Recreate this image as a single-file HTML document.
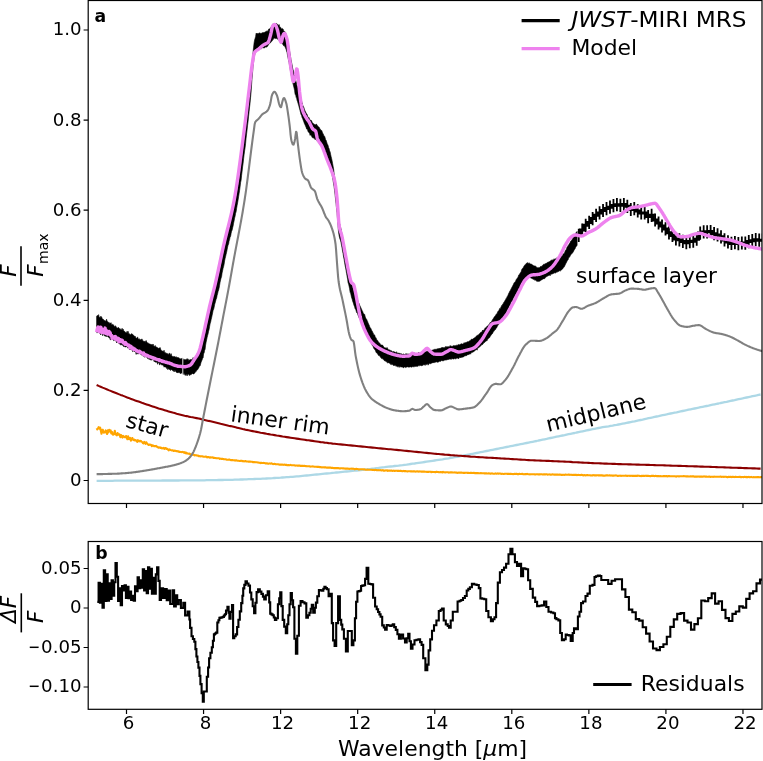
<!DOCTYPE html>
<html lang="en"><head><meta charset="utf-8"><title>Spectrum fit</title><style>html,body{margin:0;padding:0;background:#fff}svg{display:block}</style></head><body>
<svg width="763" height="761" viewBox="0 0 763 761" font-family="'DejaVu Sans','Verdana','Liberation Sans',sans-serif" style="display:block">
<rect width="763" height="761" fill="#fff"/>
<defs><clipPath id="c1"><rect x="88.2" y="0.5" width="673.8" height="503.0"/></clipPath><clipPath id="c2"><rect x="88.2" y="541.5" width="673.8" height="167.79999999999995"/></clipPath></defs>
<g clip-path="url(#c1)" fill="none" stroke-linejoin="round" stroke-linecap="butt">
<path d="M96.6,480.8 L98.6,480.8 L100.6,480.8 L102.6,480.8 L104.6,480.8 L106.6,480.8 L108.6,480.8 L110.6,480.8 L112.6,480.8 L114.6,480.7 L116.6,480.7 L118.6,480.7 L120.6,480.7 L122.6,480.7 L124.6,480.7 L126.6,480.7 L128.6,480.7 L130.6,480.7 L132.6,480.7 L134.6,480.7 L136.6,480.7 L138.6,480.7 L140.6,480.6 L142.6,480.6 L144.6,480.6 L146.6,480.6 L148.6,480.6 L150.6,480.6 L152.6,480.6 L154.6,480.6 L156.6,480.6 L158.6,480.6 L160.6,480.6 L162.6,480.5 L164.6,480.5 L166.6,480.5 L168.6,480.5 L170.6,480.5 L172.6,480.5 L174.6,480.5 L176.6,480.5 L178.6,480.5 L180.6,480.4 L182.6,480.4 L184.6,480.4 L186.6,480.4 L188.6,480.4 L190.6,480.4 L192.6,480.4 L194.6,480.3 L196.6,480.3 L198.6,480.3 L200.6,480.3 L202.6,480.3 L204.6,480.3 L206.6,480.2 L208.6,480.2 L210.6,480.2 L212.6,480.1 L214.6,480.1 L216.6,480.1 L218.6,480.0 L220.6,480.0 L222.6,480.0 L224.6,479.9 L226.6,479.9 L228.6,479.8 L230.6,479.8 L232.6,479.8 L234.6,479.7 L236.6,479.6 L238.6,479.6 L240.6,479.5 L242.6,479.5 L244.6,479.4 L246.6,479.3 L248.6,479.2 L250.6,479.2 L252.6,479.1 L254.6,479.0 L256.6,478.9 L258.6,478.8 L260.6,478.8 L262.6,478.7 L264.6,478.6 L266.6,478.5 L268.6,478.4 L270.6,478.3 L272.6,478.2 L274.6,478.0 L276.6,477.9 L278.6,477.8 L280.6,477.7 L282.6,477.5 L284.6,477.4 L286.6,477.2 L288.6,477.1 L290.6,476.9 L292.6,476.8 L294.6,476.6 L296.6,476.4 L298.6,476.3 L300.6,476.1 L302.6,475.9 L304.6,475.7 L306.6,475.5 L308.6,475.3 L310.6,475.1 L312.6,474.9 L314.6,474.7 L316.6,474.5 L318.6,474.3 L320.6,474.1 L322.6,473.9 L324.6,473.7 L326.6,473.5 L328.6,473.3 L330.6,473.1 L332.6,472.8 L334.6,472.7 L336.6,472.5 L338.6,472.3 L340.6,472.1 L342.6,471.9 L344.6,471.7 L346.6,471.5 L348.6,471.3 L350.6,471.1 L352.6,470.9 L354.6,470.7 L356.6,470.5 L358.6,470.3 L360.6,470.0 L362.6,469.8 L364.6,469.6 L366.6,469.3 L368.6,469.1 L370.6,468.9 L372.6,468.6 L374.6,468.4 L376.6,468.1 L378.6,467.9 L380.6,467.6 L382.6,467.4 L384.6,467.2 L386.6,466.9 L388.6,466.7 L390.6,466.5 L392.6,466.3 L394.6,466.0 L396.6,465.8 L398.6,465.6 L400.6,465.3 L402.6,465.1 L404.6,464.8 L406.6,464.6 L408.6,464.3 L410.6,464.0 L412.6,463.7 L414.6,463.5 L416.6,463.2 L418.6,462.9 L420.6,462.6 L422.6,462.3 L424.6,462.0 L426.6,461.7 L428.6,461.4 L430.6,461.1 L432.6,460.8 L434.6,460.5 L436.6,460.2 L438.6,459.9 L440.6,459.6 L442.6,459.3 L444.6,458.9 L446.6,458.6 L448.6,458.3 L450.6,457.9 L452.6,457.6 L454.6,457.2 L456.6,456.8 L458.6,456.5 L460.6,456.1 L462.6,455.7 L464.6,455.3 L466.6,455.0 L468.6,454.6 L470.6,454.2 L472.6,453.8 L474.6,453.4 L476.6,453.0 L478.6,452.6 L480.6,452.2 L482.6,451.8 L484.6,451.4 L486.6,451.0 L488.6,450.6 L490.6,450.2 L492.6,449.8 L494.6,449.4 L496.6,449.0 L498.6,448.6 L500.6,448.2 L502.6,447.8 L504.6,447.4 L506.6,447.0 L508.6,446.6 L510.6,446.2 L512.6,445.8 L514.6,445.4 L516.6,445.0 L518.6,444.6 L520.6,444.2 L522.6,443.8 L524.6,443.4 L526.6,443.0 L528.6,442.6 L530.6,442.2 L532.6,441.8 L534.6,441.4 L536.6,441.0 L538.6,440.5 L540.6,440.1 L542.6,439.7 L544.6,439.3 L546.6,438.9 L548.6,438.4 L550.6,438.0 L552.6,437.6 L554.6,437.2 L556.6,436.7 L558.6,436.3 L560.6,435.9 L562.6,435.5 L564.6,435.1 L566.6,434.6 L568.6,434.2 L570.6,433.8 L572.6,433.4 L574.6,433.0 L576.6,432.5 L578.6,432.1 L580.6,431.7 L582.6,431.3 L584.6,430.9 L586.6,430.4 L588.6,430.0 L590.6,429.6 L592.6,429.2 L594.6,428.8 L596.6,428.4 L598.6,428.0 L600.6,427.6 L602.6,427.2 L604.6,426.9 L606.6,426.6 L608.6,426.3 L610.6,425.9 L612.6,425.6 L614.6,425.2 L616.6,424.9 L618.6,424.5 L620.6,424.1 L622.6,423.7 L624.6,423.3 L626.6,422.9 L628.6,422.5 L630.6,422.1 L632.6,421.7 L634.6,421.3 L636.6,420.8 L638.6,420.4 L640.6,420.0 L642.6,419.6 L644.6,419.1 L646.6,418.7 L648.6,418.2 L650.6,417.8 L652.6,417.4 L654.6,416.9 L656.6,416.5 L658.6,416.1 L660.6,415.6 L662.6,415.2 L664.6,414.8 L666.6,414.4 L668.6,413.9 L670.6,413.5 L672.6,413.1 L674.6,412.7 L676.6,412.3 L678.6,411.8 L680.6,411.4 L682.6,411.0 L684.6,410.6 L686.6,410.2 L688.6,409.7 L690.6,409.3 L692.6,408.9 L694.6,408.5 L696.6,408.1 L698.6,407.7 L700.6,407.2 L702.6,406.8 L704.6,406.4 L706.6,406.0 L708.6,405.6 L710.6,405.1 L712.6,404.7 L714.6,404.3 L716.6,403.9 L718.6,403.5 L720.6,403.0 L722.6,402.6 L724.6,402.2 L726.6,401.8 L728.6,401.3 L730.6,400.9 L732.6,400.5 L734.6,400.1 L736.6,399.6 L738.6,399.2 L740.6,398.8 L742.6,398.4 L744.6,397.9 L746.6,397.5 L748.6,397.1 L750.6,396.7 L752.6,396.2 L754.6,395.8 L756.6,395.4 L758.6,394.9 L760.6,394.5" stroke="#add8e6" stroke-width="2.3"/>
<path d="M96.6,428.3 L97.3,429.4 L98.0,428.3 L98.7,427.1 L99.4,428.6 L100.1,427.6 L100.8,430.5 L101.5,433.7 L102.2,429.8 L102.9,429.9 L103.6,432.6 L104.3,432.5 L105.0,432.2 L105.7,430.4 L106.4,432.4 L107.1,434.0 L107.8,430.4 L108.5,432.3 L109.2,429.8 L109.9,431.2 L110.6,430.4 L111.3,433.4 L112.0,431.9 L112.7,434.6 L113.4,434.6 L114.1,434.2 L114.8,430.7 L115.5,434.0 L116.2,434.9 L116.9,435.3 L117.6,433.1 L118.3,434.7 L119.0,434.2 L119.7,434.7 L120.4,437.3 L121.1,435.1 L121.8,436.2 L122.5,437.6 L123.2,435.9 L123.9,436.7 L124.6,437.2 L125.3,437.3 L126.0,436.0 L126.7,437.7 L127.4,439.2 L128.1,436.3 L128.8,439.1 L129.5,438.5 L130.2,437.9 L130.9,440.7 L131.6,439.7 L132.3,438.0 L133.0,439.4 L133.7,440.1 L134.4,439.6 L135.1,440.5 L135.8,440.1 L136.5,440.9 L137.2,441.8 L137.9,440.2 L138.6,441.2 L139.3,440.9 L140.0,441.5 L140.7,440.8 L141.4,441.5 L142.1,442.0 L142.8,443.0 L143.5,443.4 L144.2,441.9 L144.9,442.5 L145.6,443.8 L146.3,442.3 L147.0,443.5 L147.7,444.0 L148.4,445.0 L149.1,444.9 L149.8,444.5 L150.5,444.7 L151.2,445.0 L151.9,446.2 L152.6,445.3 L153.3,445.6 L154.0,446.1 L154.7,446.1 L155.4,446.2 L156.1,445.9 L156.8,446.7 L157.5,446.7 L158.2,447.6 L158.9,447.6 L159.6,447.4 L160.3,447.9 L161.0,447.6 L161.7,448.4 L162.4,448.1 L163.1,448.5 L163.8,447.9 L164.5,448.8 L165.2,448.1 L165.9,448.1 L166.6,449.0 L167.3,448.9 L168.0,449.5 L168.7,450.4 L169.4,449.4 L170.1,449.7 L170.8,450.1 L171.5,450.4 L172.2,450.3 L172.9,450.4 L173.6,450.9 L174.3,450.9 L175.0,450.5 L175.7,451.0 L176.4,451.2 L177.1,451.0 L177.8,451.5 L178.5,451.3 L179.2,452.0 L179.9,451.9 L180.6,452.0 L181.3,452.0 L182.0,452.2 L182.7,451.8 L183.4,452.2 L184.1,452.8 L184.8,452.2 L185.5,453.2 L186.2,452.7 L186.9,453.5 L187.6,453.2 L188.3,453.8 L189.0,453.8 L189.7,453.6 L190.4,454.5 L191.1,454.7 L191.8,454.5 L192.5,454.6 L193.2,454.8 L193.9,454.7 L194.6,455.4 L195.3,455.1 L196.0,455.4 L196.7,455.4 L197.4,455.6 L198.1,455.6 L198.8,456.2 L199.5,456.1 L200.2,456.4 L200.9,456.3 L201.6,456.3 L202.3,456.4 L203.0,456.5 L203.7,456.7 L204.4,456.7 L205.1,456.8 L205.8,456.6 L206.5,456.8 L207.2,457.4 L207.9,457.0 L208.6,457.0 L209.3,457.4 L210.0,457.7 L210.7,457.2 L211.4,457.5 L212.1,457.5 L212.8,457.4 L213.5,458.0 L214.2,457.9 L214.9,458.0 L215.6,458.0 L216.3,458.3 L217.0,458.2 L217.7,458.3 L218.4,458.3 L219.1,458.3 L219.8,458.9 L220.5,458.6 L221.2,458.9 L221.9,458.9 L222.6,458.9 L223.3,459.0 L224.0,459.3 L224.7,459.2 L225.4,459.3 L226.1,459.4 L226.8,459.7 L227.5,459.7 L228.2,459.7 L228.9,459.6 L229.6,459.5 L230.3,460.0 L231.0,460.1 L231.7,460.0 L232.4,460.1 L233.1,460.3 L233.8,460.3 L234.5,460.4 L235.2,460.3 L235.9,460.6 L236.6,460.3 L237.3,460.7 L238.0,460.7 L238.7,460.8 L239.4,461.0 L240.1,461.0 L240.8,460.7 L241.5,460.7 L242.2,461.2 L242.9,461.0 L243.6,461.2 L244.3,461.4 L245.0,461.1 L245.7,461.1 L246.4,461.5 L247.1,461.5 L247.8,461.5 L248.5,461.6 L249.2,461.6 L249.9,461.5 L250.6,461.8 L251.3,461.8 L252.0,461.7 L252.7,462.1 L253.4,462.1 L254.1,462.2 L254.8,462.1 L255.5,462.2 L256.2,462.2 L256.9,462.3 L257.6,462.5 L258.3,462.5 L259.0,462.7 L259.7,462.8 L260.4,463.1 L261.1,462.7 L261.8,463.0 L262.5,463.0 L263.2,463.0 L263.9,462.9 L264.6,463.1 L265.3,463.4 L266.0,463.3 L266.7,463.4 L267.4,463.4 L268.1,463.7 L268.8,463.6 L269.5,463.4 L270.2,463.6 L270.9,463.5 L271.6,463.4 L272.3,463.8 L273.0,464.1 L273.7,464.0 L274.4,463.9 L275.1,464.0 L275.8,464.3 L276.5,464.3 L277.2,464.3 L277.9,464.3 L278.6,464.4 L279.3,464.6 L280.0,464.6 L280.7,464.6 L281.4,464.5 L282.1,464.7 L282.8,464.6 L283.5,464.9 L284.2,464.6 L284.9,464.8 L285.6,464.9 L286.3,464.7 L287.0,465.2 L287.7,465.2 L288.4,465.0 L289.1,465.2 L289.8,465.2 L290.5,464.8 L291.2,465.2 L291.9,465.2 L292.6,465.3 L293.3,465.2 L294.0,465.3 L294.7,465.4 L295.4,465.6 L296.1,465.5 L296.8,465.5 L297.5,465.7 L298.2,465.5 L298.9,465.6 L299.6,465.5 L300.3,465.9 L301.0,465.9 L301.7,465.9 L302.4,465.9 L303.1,465.9 L303.8,466.0 L304.5,465.9 L305.2,466.0 L305.9,466.1 L306.6,466.3 L307.3,466.2 L308.0,466.2 L308.7,466.2 L309.4,466.2 L310.1,466.6 L310.8,466.5 L311.5,466.5 L312.2,466.5 L312.9,466.4 L313.6,466.6 L314.3,466.8 L315.0,466.7 L315.7,466.7 L316.4,466.8 L317.1,466.9 L317.8,466.7 L318.5,466.9 L319.2,466.9 L319.9,467.2 L320.6,467.0 L321.3,467.2 L322.0,467.4 L322.7,467.2 L323.4,467.2 L324.1,467.4 L324.8,467.4 L325.5,467.3 L326.2,467.6 L326.9,467.8 L327.6,467.6 L328.3,467.6 L329.0,467.5 L329.7,467.8 L330.4,467.6 L331.1,467.7 L331.8,468.0 L332.5,467.8 L333.2,468.0 L333.9,468.1 L334.6,468.0 L335.3,468.1 L336.0,468.3 L336.7,468.1 L337.4,468.1 L338.1,468.0 L338.8,468.2 L339.5,468.4 L340.2,468.4 L340.9,468.2 L341.6,468.2 L342.3,468.3 L343.0,468.5 L343.7,468.4 L344.4,468.5 L345.1,468.6 L345.8,468.5 L346.5,468.6 L347.2,468.6 L347.9,468.6 L348.6,468.7 L349.3,468.9 L350.0,468.8 L350.7,468.8 L351.4,468.6 L352.1,468.9 L352.8,468.6 L353.5,468.7 L354.2,469.1 L354.9,469.1 L355.6,469.0 L356.3,468.8 L357.0,469.0 L357.7,469.0 L358.4,469.2 L359.1,469.5 L359.8,469.3 L360.5,469.2 L361.2,469.2 L361.9,469.3 L362.6,469.3 L363.3,469.3 L364.0,469.5 L364.7,469.3 L365.4,469.7 L366.1,469.7 L366.8,469.7 L367.5,469.6 L368.2,469.7 L368.9,469.7 L369.6,469.7 L370.3,469.7 L371.0,469.7 L371.7,469.7 L372.4,470.0 L373.1,469.9 L373.8,470.0 L374.5,470.1 L375.2,469.8 L375.9,470.0 L376.6,470.1 L377.3,470.2 L378.0,470.1 L378.7,470.3 L379.4,470.2 L380.1,470.1 L380.8,470.2 L381.5,470.4 L382.2,470.4 L382.9,470.1 L383.6,470.6 L384.3,470.5 L385.0,470.6 L385.7,470.4 L386.4,470.5 L387.1,470.4 L387.8,470.9 L388.5,470.6 L389.2,470.8 L389.9,470.6 L390.6,470.7 L391.3,470.5 L392.0,470.7 L392.7,470.9 L393.4,470.6 L394.1,470.9 L394.8,470.9 L395.5,470.7 L396.2,470.8 L396.9,470.8 L397.6,470.9 L398.3,470.9 L399.0,470.9 L399.7,471.0 L400.4,470.9 L401.1,470.9 L401.8,471.1 L402.5,471.2 L403.2,470.9 L403.9,471.1 L404.6,471.1 L405.3,471.1 L406.0,471.3 L406.7,471.2 L407.4,471.4 L408.1,471.2 L408.8,471.3 L409.5,471.3 L410.2,471.2 L410.9,471.4 L411.6,471.3 L412.3,471.5 L413.0,471.4 L413.7,471.3 L414.4,471.4 L415.1,471.5 L415.8,471.6 L416.5,471.4 L417.2,471.5 L417.9,471.3 L418.6,471.7 L419.3,471.5 L420.0,471.4 L420.7,471.6 L421.4,471.8 L422.1,471.5 L422.8,471.6 L423.5,471.6 L424.2,471.6 L424.9,471.8 L425.6,471.7 L426.3,471.7 L427.0,471.9 L427.7,471.7 L428.4,471.9 L429.1,471.8 L429.8,471.7 L430.5,471.7 L431.2,472.2 L431.9,471.9 L432.6,472.0 L433.3,472.0 L434.0,472.0 L434.7,472.0 L435.4,472.3 L436.1,471.9 L436.8,471.9 L437.5,472.0 L438.2,472.0 L438.9,472.2 L439.6,472.3 L440.3,472.1 L441.0,472.0 L441.7,472.2 L442.4,472.4 L443.1,471.9 L443.8,472.3 L444.5,472.2 L445.2,472.4 L445.9,472.2 L446.6,472.3 L447.3,472.2 L448.0,472.3 L448.7,472.6 L449.4,472.5 L450.1,472.4 L450.8,472.4 L451.5,472.2 L452.2,472.4 L452.9,472.5 L453.6,472.5 L454.3,472.5 L455.0,472.4 L455.7,472.6 L456.4,472.6 L457.1,472.8 L457.8,472.9 L458.5,472.6 L459.2,472.6 L459.9,472.7 L460.6,472.6 L461.3,472.6 L462.0,472.8 L462.7,472.7 L463.4,472.9 L464.1,472.8 L464.8,472.9 L465.5,472.8 L466.2,472.8 L466.9,472.8 L467.6,472.9 L468.3,472.9 L469.0,473.0 L469.7,473.0 L470.4,472.8 L471.1,473.0 L471.8,472.9 L472.5,473.0 L473.2,473.0 L473.9,472.8 L474.6,473.1 L475.3,473.1 L476.0,473.1 L476.7,473.1 L477.4,473.1 L478.1,473.1 L478.8,473.2 L479.5,473.2 L480.2,473.3 L480.9,473.1 L481.6,473.3 L482.3,473.3 L483.0,473.3 L483.7,473.3 L484.4,473.4 L485.1,473.2 L485.8,473.4 L486.5,473.4 L487.2,473.5 L487.9,473.5 L488.6,473.4 L489.3,473.4 L490.0,473.6 L490.7,473.6 L491.4,473.5 L492.1,473.4 L492.8,473.6 L493.5,473.7 L494.2,473.7 L494.9,473.6 L495.6,473.4 L496.3,473.7 L497.0,473.6 L497.7,473.4 L498.4,473.7 L499.1,473.5 L499.8,473.5 L500.5,473.6 L501.2,473.9 L501.9,473.7 L502.6,473.8 L503.3,474.0 L504.0,474.0 L504.7,473.8 L505.4,473.8 L506.1,473.7 L506.8,473.8 L507.5,473.9 L508.2,473.9 L508.9,473.9 L509.6,474.0 L510.3,473.8 L511.0,473.9 L511.7,474.0 L512.4,474.0 L513.1,474.1 L513.8,474.0 L514.5,473.9 L515.2,474.0 L515.9,473.9 L516.6,473.8 L517.3,474.1 L518.0,474.0 L518.7,474.1 L519.4,473.8 L520.1,474.0 L520.8,474.0 L521.5,474.0 L522.2,473.8 L522.9,474.1 L523.6,474.2 L524.3,474.2 L525.0,474.1 L525.7,474.1 L526.4,474.2 L527.1,473.8 L527.8,474.2 L528.5,474.2 L529.2,474.3 L529.9,474.4 L530.6,474.3 L531.3,474.3 L532.0,474.3 L532.7,474.3 L533.4,474.2 L534.1,474.3 L534.8,474.4 L535.5,474.5 L536.2,474.3 L536.9,474.3 L537.6,474.3 L538.3,474.5 L539.0,474.3 L539.7,474.5 L540.4,474.2 L541.1,474.3 L541.8,474.3 L542.5,474.5 L543.2,474.5 L543.9,474.2 L544.6,474.3 L545.3,474.5 L546.0,474.3 L546.7,474.3 L547.4,474.6 L548.1,474.5 L548.8,474.5 L549.5,474.4 L550.2,474.6 L550.9,474.5 L551.6,474.6 L552.3,474.4 L553.0,474.4 L553.7,474.6 L554.4,474.5 L555.1,474.6 L555.8,474.6 L556.5,474.5 L557.2,474.6 L557.9,474.6 L558.6,474.7 L559.3,474.6 L560.0,474.6 L560.7,474.8 L561.4,474.9 L562.1,474.9 L562.8,474.7 L563.5,474.7 L564.2,474.9 L564.9,474.7 L565.6,474.6 L566.3,474.8 L567.0,474.8 L567.7,474.7 L568.4,474.6 L569.1,474.6 L569.8,474.9 L570.5,474.8 L571.2,474.8 L571.9,474.9 L572.6,475.0 L573.3,474.9 L574.0,475.0 L574.7,474.8 L575.4,474.9 L576.1,474.8 L576.8,475.1 L577.5,475.0 L578.2,474.9 L578.9,475.0 L579.6,475.0 L580.3,475.1 L581.0,474.9 L581.7,474.9 L582.4,475.0 L583.1,475.4 L583.8,475.2 L584.5,475.1 L585.2,475.2 L585.9,475.4 L586.6,475.1 L587.3,475.1 L588.0,475.3 L588.7,475.3 L589.4,475.3 L590.1,475.2 L590.8,475.5 L591.5,475.5 L592.2,475.3 L592.9,475.4 L593.6,475.1 L594.3,475.4 L595.0,475.3 L595.7,475.4 L596.4,475.4 L597.1,475.3 L597.8,475.2 L598.5,475.4 L599.2,475.3 L599.9,475.4 L600.6,475.3 L601.3,475.4 L602.0,475.2 L602.7,475.6 L603.4,475.5 L604.1,475.6 L604.8,475.7 L605.5,475.5 L606.2,475.3 L606.9,475.4 L607.6,475.4 L608.3,475.5 L609.0,475.5 L609.7,475.3 L610.4,475.6 L611.1,475.4 L611.8,475.6 L612.5,475.6 L613.2,475.5 L613.9,475.6 L614.6,475.5 L615.3,475.5 L616.0,475.4 L616.7,475.6 L617.4,475.9 L618.1,475.9 L618.8,475.8 L619.5,475.7 L620.2,475.6 L620.9,475.9 L621.6,475.7 L622.3,475.7 L623.0,475.7 L623.7,475.7 L624.4,475.7 L625.1,475.7 L625.8,475.6 L626.5,475.7 L627.2,476.0 L627.9,475.8 L628.6,475.7 L629.3,475.8 L630.0,475.9 L630.7,475.7 L631.4,475.8 L632.1,475.9 L632.8,475.9 L633.5,475.8 L634.2,476.0 L634.9,475.8 L635.6,475.9 L636.3,475.8 L637.0,476.0 L637.7,475.6 L638.4,475.8 L639.1,475.8 L639.8,476.0 L640.5,476.0 L641.2,476.1 L641.9,475.7 L642.6,476.0 L643.3,475.9 L644.0,475.9 L644.7,476.0 L645.4,475.8 L646.1,475.7 L646.8,475.9 L647.5,475.8 L648.2,475.9 L648.9,476.0 L649.6,476.0 L650.3,476.2 L651.0,476.0 L651.7,475.8 L652.4,475.9 L653.1,475.9 L653.8,475.9 L654.5,476.1 L655.2,476.0 L655.9,475.8 L656.6,476.2 L657.3,476.1 L658.0,476.1 L658.7,476.1 L659.4,476.2 L660.1,476.1 L660.8,476.3 L661.5,476.2 L662.2,476.2 L662.9,476.2 L663.6,476.0 L664.3,476.1 L665.0,476.1 L665.7,476.2 L666.4,476.0 L667.1,476.4 L667.8,476.2 L668.5,476.1 L669.2,476.0 L669.9,476.2 L670.6,476.2 L671.3,476.2 L672.0,476.3 L672.7,476.2 L673.4,476.3 L674.1,476.2 L674.8,476.3 L675.5,476.4 L676.2,476.6 L676.9,476.2 L677.6,476.3 L678.3,476.2 L679.0,476.4 L679.7,476.2 L680.4,476.3 L681.1,476.3 L681.8,476.2 L682.5,476.2 L683.2,476.3 L683.9,476.1 L684.6,476.2 L685.3,476.3 L686.0,476.4 L686.7,476.4 L687.4,476.2 L688.1,476.4 L688.8,476.5 L689.5,476.5 L690.2,476.4 L690.9,476.3 L691.6,476.5 L692.3,476.4 L693.0,476.3 L693.7,476.4 L694.4,476.7 L695.1,476.5 L695.8,476.6 L696.5,476.5 L697.2,476.6 L697.9,476.5 L698.6,476.5 L699.3,476.8 L700.0,476.6 L700.7,476.5 L701.4,476.6 L702.1,476.6 L702.8,476.7 L703.5,476.5 L704.2,476.4 L704.9,476.6 L705.6,476.6 L706.3,476.6 L707.0,476.8 L707.7,476.7 L708.4,476.7 L709.1,476.5 L709.8,476.8 L710.5,476.9 L711.2,476.8 L711.9,476.7 L712.6,476.7 L713.3,476.9 L714.0,476.6 L714.7,476.7 L715.4,476.8 L716.1,476.8 L716.8,476.7 L717.5,476.8 L718.2,476.7 L718.9,476.8 L719.6,476.7 L720.3,476.6 L721.0,476.8 L721.7,476.9 L722.4,476.7 L723.1,476.8 L723.8,476.9 L724.5,476.7 L725.2,476.8 L725.9,476.7 L726.6,477.0 L727.3,477.1 L728.0,477.1 L728.7,476.8 L729.4,477.0 L730.1,476.9 L730.8,476.9 L731.5,477.1 L732.2,476.7 L732.9,477.0 L733.6,476.9 L734.3,477.1 L735.0,476.9 L735.7,476.8 L736.4,477.0 L737.1,477.0 L737.8,477.0 L738.5,477.0 L739.2,476.9 L739.9,476.7 L740.6,477.1 L741.3,477.1 L742.0,477.0 L742.7,477.0 L743.4,477.1 L744.1,477.0 L744.8,476.9 L745.5,477.0 L746.2,477.2 L746.9,476.9 L747.6,477.2 L748.3,477.0 L749.0,476.9 L749.7,477.2 L750.4,477.1 L751.1,476.9 L751.8,477.1 L752.5,477.2 L753.2,477.3 L753.9,477.1 L754.6,477.2 L755.3,477.2 L756.0,477.1 L756.7,477.2 L757.4,477.1 L758.1,477.1 L758.8,477.1 L759.5,477.2 L760.2,477.2 L760.9,477.1 L761.6,477.1 L762.3,477.3" stroke="#ffa500" stroke-width="2.1"/>
<path d="M96.6,385.0 L98.6,385.9 L100.6,386.7 L102.6,387.6 L104.6,388.4 L106.6,389.2 L108.6,390.1 L110.6,390.9 L112.6,391.7 L114.6,392.5 L116.6,393.3 L118.6,394.1 L120.6,394.9 L122.6,395.6 L124.6,396.4 L126.6,397.2 L128.6,397.9 L130.6,398.7 L132.6,399.4 L134.6,400.2 L136.6,400.9 L138.6,401.6 L140.6,402.3 L142.6,403.1 L144.6,403.8 L146.6,404.4 L148.6,405.1 L150.6,405.8 L152.6,406.4 L154.6,407.1 L156.6,407.7 L158.6,408.4 L160.6,409.0 L162.6,409.6 L164.6,410.2 L166.6,410.8 L168.6,411.4 L170.6,412.0 L172.6,412.6 L174.6,413.1 L176.6,413.7 L178.6,414.2 L180.6,414.7 L182.6,415.2 L184.6,415.7 L186.6,416.1 L188.6,416.6 L190.6,417.0 L192.6,417.3 L194.6,417.7 L196.6,418.1 L198.6,418.5 L200.6,418.9 L202.6,419.4 L204.6,419.9 L206.6,420.4 L208.6,420.9 L210.6,421.3 L212.6,421.8 L214.6,422.3 L216.6,422.8 L218.6,423.3 L220.6,423.8 L222.6,424.2 L224.6,424.7 L226.6,425.2 L228.6,425.7 L230.6,426.1 L232.6,426.6 L234.6,427.1 L236.6,427.6 L238.6,428.0 L240.6,428.5 L242.6,429.0 L244.6,429.4 L246.6,429.9 L248.6,430.3 L250.6,430.7 L252.6,431.1 L254.6,431.5 L256.6,431.9 L258.6,432.3 L260.6,432.7 L262.6,433.0 L264.6,433.4 L266.6,433.8 L268.6,434.1 L270.6,434.5 L272.6,434.8 L274.6,435.1 L276.6,435.5 L278.6,435.8 L280.6,436.1 L282.6,436.5 L284.6,436.8 L286.6,437.1 L288.6,437.4 L290.6,437.7 L292.6,438.0 L294.6,438.3 L296.6,438.6 L298.6,438.9 L300.6,439.2 L302.6,439.5 L304.6,439.8 L306.6,440.1 L308.6,440.3 L310.6,440.6 L312.6,440.9 L314.6,441.2 L316.6,441.5 L318.6,441.8 L320.6,442.1 L322.6,442.3 L324.6,442.6 L326.6,442.8 L328.6,443.1 L330.6,443.3 L332.6,443.6 L334.6,443.8 L336.6,444.0 L338.6,444.2 L340.6,444.4 L342.6,444.6 L344.6,444.8 L346.6,445.0 L348.6,445.2 L350.6,445.4 L352.6,445.6 L354.6,445.8 L356.6,446.0 L358.6,446.2 L360.6,446.4 L362.6,446.6 L364.6,446.8 L366.6,447.0 L368.6,447.2 L370.6,447.4 L372.6,447.6 L374.6,447.8 L376.6,448.0 L378.6,448.2 L380.6,448.4 L382.6,448.6 L384.6,448.8 L386.6,449.0 L388.6,449.2 L390.6,449.3 L392.6,449.5 L394.6,449.7 L396.6,449.9 L398.6,450.1 L400.6,450.3 L402.6,450.5 L404.6,450.7 L406.6,450.9 L408.6,451.1 L410.6,451.3 L412.6,451.5 L414.6,451.7 L416.6,451.9 L418.6,452.1 L420.6,452.3 L422.6,452.5 L424.6,452.7 L426.6,452.9 L428.6,453.1 L430.6,453.3 L432.6,453.5 L434.6,453.7 L436.6,453.9 L438.6,454.0 L440.6,454.2 L442.6,454.4 L444.6,454.6 L446.6,454.7 L448.6,454.9 L450.6,455.1 L452.6,455.2 L454.6,455.4 L456.6,455.5 L458.6,455.7 L460.6,455.8 L462.6,456.0 L464.6,456.1 L466.6,456.3 L468.6,456.4 L470.6,456.6 L472.6,456.7 L474.6,456.8 L476.6,457.0 L478.6,457.1 L480.6,457.2 L482.6,457.3 L484.6,457.5 L486.6,457.6 L488.6,457.7 L490.6,457.8 L492.6,457.9 L494.6,458.0 L496.6,458.1 L498.6,458.2 L500.6,458.4 L502.6,458.5 L504.6,458.6 L506.6,458.7 L508.6,458.8 L510.6,459.0 L512.6,459.1 L514.6,459.2 L516.6,459.3 L518.6,459.5 L520.6,459.6 L522.6,459.7 L524.6,459.8 L526.6,460.0 L528.6,460.1 L530.6,460.2 L532.6,460.3 L534.6,460.4 L536.6,460.5 L538.6,460.5 L540.6,460.6 L542.6,460.7 L544.6,460.8 L546.6,460.9 L548.6,460.9 L550.6,461.0 L552.6,461.1 L554.6,461.2 L556.6,461.3 L558.6,461.4 L560.6,461.5 L562.6,461.5 L564.6,461.6 L566.6,461.7 L568.6,461.8 L570.6,461.9 L572.6,462.1 L574.6,462.2 L576.6,462.3 L578.6,462.4 L580.6,462.5 L582.6,462.6 L584.6,462.7 L586.6,462.8 L588.6,462.9 L590.6,463.0 L592.6,463.1 L594.6,463.2 L596.6,463.3 L598.6,463.3 L600.6,463.4 L602.6,463.5 L604.6,463.6 L606.6,463.6 L608.6,463.7 L610.6,463.8 L612.6,463.9 L614.6,463.9 L616.6,464.0 L618.6,464.1 L620.6,464.1 L622.6,464.2 L624.6,464.2 L626.6,464.3 L628.6,464.4 L630.6,464.4 L632.6,464.5 L634.6,464.5 L636.6,464.6 L638.6,464.6 L640.6,464.7 L642.6,464.8 L644.6,464.8 L646.6,464.9 L648.6,464.9 L650.6,465.0 L652.6,465.0 L654.6,465.1 L656.6,465.2 L658.6,465.2 L660.6,465.3 L662.6,465.3 L664.6,465.4 L666.6,465.5 L668.6,465.5 L670.6,465.6 L672.6,465.7 L674.6,465.7 L676.6,465.8 L678.6,465.9 L680.6,465.9 L682.6,466.0 L684.6,466.0 L686.6,466.1 L688.6,466.2 L690.6,466.2 L692.6,466.3 L694.6,466.4 L696.6,466.4 L698.6,466.5 L700.6,466.6 L702.6,466.6 L704.6,466.7 L706.6,466.8 L708.6,466.8 L710.6,466.9 L712.6,467.0 L714.6,467.0 L716.6,467.1 L718.6,467.2 L720.6,467.2 L722.6,467.3 L724.6,467.4 L726.6,467.5 L728.6,467.5 L730.6,467.6 L732.6,467.7 L734.6,467.7 L736.6,467.8 L738.6,467.9 L740.6,467.9 L742.6,468.0 L744.6,468.1 L746.6,468.1 L748.6,468.2 L750.6,468.3 L752.6,468.4 L754.6,468.4 L756.6,468.5 L758.6,468.6 L760.6,468.6" stroke="#8b0000" stroke-width="2.1"/>
<path d="M96.6,474.1 L97.1,474.1 L97.6,474.1 L98.1,474.1 L98.6,474.1 L99.1,474.1 L99.6,474.1 L100.1,474.1 L100.6,474.1 L101.1,474.1 L101.6,474.1 L102.1,474.1 L102.6,474.1 L103.1,474.0 L103.6,474.0 L104.1,474.0 L104.6,474.0 L105.1,474.0 L105.6,474.0 L106.1,474.0 L106.6,474.0 L107.1,474.0 L107.6,474.0 L108.1,473.9 L108.6,473.9 L109.1,473.9 L109.6,473.9 L110.1,473.9 L110.6,473.9 L111.1,473.9 L111.6,473.9 L112.1,473.8 L112.6,473.8 L113.1,473.8 L113.6,473.8 L114.1,473.8 L114.6,473.8 L115.1,473.8 L115.6,473.7 L116.1,473.7 L116.6,473.7 L117.1,473.7 L117.6,473.6 L118.1,473.6 L118.6,473.6 L119.1,473.6 L119.6,473.5 L120.1,473.5 L120.6,473.5 L121.1,473.4 L121.6,473.4 L122.1,473.4 L122.6,473.3 L123.1,473.3 L123.6,473.3 L124.1,473.2 L124.6,473.2 L125.1,473.2 L125.6,473.1 L126.1,473.1 L126.6,473.0 L127.1,473.0 L127.6,473.0 L128.1,472.9 L128.6,472.9 L129.1,472.8 L129.6,472.8 L130.1,472.7 L130.6,472.7 L131.1,472.6 L131.6,472.6 L132.1,472.5 L132.6,472.5 L133.1,472.4 L133.6,472.3 L134.1,472.3 L134.6,472.2 L135.1,472.1 L135.6,472.1 L136.1,472.0 L136.6,471.9 L137.1,471.9 L137.6,471.8 L138.1,471.7 L138.6,471.6 L139.1,471.6 L139.6,471.5 L140.1,471.4 L140.6,471.3 L141.1,471.2 L141.6,471.2 L142.1,471.1 L142.6,471.0 L143.1,470.9 L143.6,470.9 L144.1,470.8 L144.6,470.7 L145.1,470.6 L145.6,470.5 L146.1,470.5 L146.6,470.4 L147.1,470.3 L147.6,470.2 L148.1,470.1 L148.6,470.0 L149.1,470.0 L149.6,469.9 L150.1,469.8 L150.6,469.7 L151.1,469.6 L151.6,469.5 L152.1,469.4 L152.6,469.4 L153.1,469.3 L153.6,469.2 L154.1,469.1 L154.6,469.0 L155.1,468.9 L155.6,468.8 L156.1,468.7 L156.6,468.6 L157.1,468.5 L157.6,468.4 L158.1,468.3 L158.6,468.3 L159.1,468.2 L159.6,468.1 L160.1,468.0 L160.6,467.9 L161.1,467.8 L161.6,467.7 L162.1,467.6 L162.6,467.5 L163.1,467.4 L163.6,467.3 L164.1,467.2 L164.6,467.1 L165.1,467.0 L165.6,466.9 L166.1,466.8 L166.6,466.8 L167.1,466.7 L167.6,466.6 L168.1,466.5 L168.6,466.4 L169.1,466.3 L169.6,466.2 L170.1,466.1 L170.6,466.0 L171.1,465.9 L171.6,465.7 L172.1,465.6 L172.6,465.5 L173.1,465.4 L173.6,465.3 L174.1,465.2 L174.6,465.0 L175.1,464.9 L175.6,464.8 L176.1,464.6 L176.6,464.5 L177.1,464.3 L177.6,464.2 L178.1,464.0 L178.6,463.9 L179.1,463.7 L179.6,463.6 L180.1,463.4 L180.6,463.2 L181.1,463.0 L181.6,462.8 L182.1,462.6 L182.6,462.4 L183.1,462.2 L183.6,461.9 L184.1,461.7 L184.6,461.4 L185.1,461.1 L185.6,460.8 L186.1,460.5 L186.6,460.1 L187.1,459.7 L187.6,459.4 L188.1,458.9 L188.6,458.5 L189.1,458.0 L189.6,457.5 L190.1,457.0 L190.6,456.3 L191.1,455.7 L191.6,455.0 L192.1,454.2 L192.6,453.4 L193.1,452.6 L193.6,451.6 L194.1,450.5 L194.6,449.4 L195.1,448.2 L195.6,447.0 L196.1,445.7 L196.6,444.4 L197.1,443.0 L197.6,441.6 L198.1,440.2 L198.6,438.6 L199.1,437.0 L199.6,435.3 L200.1,433.5 L200.6,431.5 L201.1,429.3 L201.6,426.7 L202.1,424.0 L202.6,421.2 L203.1,418.5 L203.6,415.9 L204.1,413.4 L204.6,410.8 L205.1,408.2 L205.6,405.6 L206.1,403.1 L206.6,400.5 L207.1,398.0 L207.6,395.5 L208.1,393.0 L208.6,390.5 L209.1,388.0 L209.6,385.5 L210.1,383.0 L210.6,380.5 L211.1,378.0 L211.6,375.5 L212.1,373.1 L212.6,370.6 L213.1,368.1 L213.6,365.7 L214.1,363.2 L214.6,360.7 L215.1,358.3 L215.6,355.8 L216.1,353.3 L216.6,350.8 L217.1,348.3 L217.6,345.7 L218.1,343.2 L218.6,340.6 L219.1,338.0 L219.6,335.4 L220.1,332.8 L220.6,330.2 L221.1,327.5 L221.6,324.9 L222.1,322.3 L222.6,319.7 L223.1,317.0 L223.6,314.4 L224.1,311.9 L224.6,309.3 L225.1,306.7 L225.6,304.1 L226.1,301.6 L226.6,299.0 L227.1,296.4 L227.6,293.8 L228.1,291.1 L228.6,288.4 L229.1,285.7 L229.6,283.0 L230.1,280.2 L230.6,277.4 L231.1,274.6 L231.6,271.8 L232.1,268.9 L232.6,266.1 L233.1,263.3 L233.6,260.6 L234.1,257.8 L234.6,255.1 L235.1,252.4 L235.6,249.7 L236.1,247.1 L236.6,244.5 L237.1,241.9 L237.6,239.3 L238.1,236.7 L238.6,234.0 L239.1,231.4 L239.6,228.8 L240.1,226.1 L240.6,223.4 L241.1,220.7 L241.6,217.9 L242.1,215.1 L242.6,212.2 L243.1,209.2 L243.6,206.2 L244.1,203.2 L244.6,200.0 L245.1,196.7 L245.6,193.3 L246.1,189.8 L246.6,186.2 L247.1,182.4 L247.6,178.6 L248.1,174.7 L248.6,170.8 L249.1,166.8 L249.6,162.9 L250.1,158.9 L250.6,154.9 L251.1,150.9 L251.6,147.0 L252.1,143.2 L252.6,139.4 L253.1,135.7 L253.6,132.1 L254.1,128.5 L254.6,124.6 L255.1,122.5 L255.6,121.6 L256.1,121.0 L256.6,120.5 L257.1,120.1 L257.6,119.7 L258.1,119.3 L258.6,118.8 L259.1,118.2 L259.6,117.6 L260.1,117.0 L260.6,116.3 L261.1,115.7 L261.6,115.1 L262.1,114.6 L262.6,114.1 L263.1,113.7 L263.6,113.4 L264.1,113.1 L264.6,112.8 L265.1,112.6 L265.6,112.3 L266.1,111.9 L266.6,111.6 L267.1,111.1 L267.6,110.5 L268.1,109.7 L268.6,108.7 L269.1,107.5 L269.6,106.1 L270.1,104.6 L270.6,102.3 L271.1,99.3 L271.6,96.5 L272.1,94.9 L272.6,93.8 L273.1,92.9 L273.6,92.2 L274.1,91.8 L274.6,91.7 L275.1,92.1 L275.6,92.8 L276.1,93.7 L276.6,94.7 L277.1,95.9 L277.6,97.6 L278.1,99.8 L278.6,102.0 L279.1,104.0 L279.6,105.4 L280.1,106.5 L280.6,107.2 L281.1,107.2 L281.6,105.3 L282.1,102.7 L282.6,100.9 L283.1,99.3 L283.6,98.2 L284.1,98.1 L284.6,98.6 L285.1,99.7 L285.6,101.1 L286.1,102.7 L286.6,104.6 L287.1,107.4 L287.6,110.7 L288.1,114.0 L288.6,117.4 L289.1,121.1 L289.6,125.0 L290.1,129.5 L290.6,134.8 L291.1,139.0 L291.6,141.1 L292.1,142.7 L292.6,144.0 L293.1,144.6 L293.6,144.5 L294.1,143.2 L294.6,141.2 L295.1,138.9 L295.6,134.9 L296.1,131.7 L296.6,132.3 L297.1,136.6 L297.6,141.5 L298.1,145.6 L298.6,149.8 L299.1,153.9 L299.6,157.7 L300.1,161.1 L300.6,164.4 L301.1,167.6 L301.6,170.3 L302.1,172.5 L302.6,173.9 L303.1,175.1 L303.6,176.2 L304.1,177.1 L304.6,177.9 L305.1,178.5 L305.6,179.0 L306.1,179.3 L306.6,179.5 L307.1,179.7 L307.6,180.0 L308.1,180.5 L308.6,181.5 L309.1,182.7 L309.6,184.1 L310.1,185.5 L310.6,186.7 L311.1,187.7 L311.6,188.4 L312.1,188.8 L312.6,189.2 L313.1,189.5 L313.6,189.9 L314.1,190.3 L314.6,190.8 L315.1,191.6 L315.6,193.0 L316.1,194.9 L316.6,196.8 L317.1,198.6 L317.6,199.8 L318.1,200.9 L318.6,201.9 L319.1,202.7 L319.6,203.6 L320.1,204.4 L320.6,205.2 L321.1,206.1 L321.6,207.0 L322.1,208.0 L322.6,209.1 L323.1,210.4 L323.6,211.7 L324.1,213.0 L324.6,214.2 L325.1,215.4 L325.6,216.5 L326.1,217.4 L326.6,218.1 L327.1,218.7 L327.6,219.3 L328.1,220.0 L328.6,220.8 L329.1,221.8 L329.6,222.7 L330.1,223.8 L330.6,224.9 L331.1,226.2 L331.6,227.5 L332.1,228.9 L332.6,230.4 L333.1,232.0 L333.6,233.8 L334.1,235.9 L334.6,238.3 L335.1,241.1 L335.6,244.5 L336.1,250.1 L336.6,257.3 L337.1,264.2 L337.6,270.6 L338.1,276.8 L338.6,281.5 L339.1,284.8 L339.6,287.6 L340.1,290.0 L340.6,292.1 L341.1,294.1 L341.6,296.1 L342.1,298.1 L342.6,300.4 L343.1,302.8 L343.6,305.2 L344.1,307.6 L344.6,310.0 L345.1,312.4 L345.6,314.9 L346.1,317.4 L346.6,320.0 L347.1,322.8 L347.6,325.8 L348.1,328.7 L348.6,331.4 L349.1,333.6 L349.6,335.4 L350.1,337.0 L350.6,338.4 L351.1,339.4 L351.6,340.0 L352.1,340.3 L352.6,340.5 L353.1,340.9 L353.6,341.6 L354.1,344.2 L354.6,347.9 L355.1,352.1 L355.6,355.6 L356.1,358.3 L356.6,360.8 L357.1,363.3 L357.6,365.6 L358.1,367.9 L358.6,370.0 L359.1,372.0 L359.6,373.9 L360.1,375.6 L360.6,377.2 L361.1,378.8 L361.6,380.3 L362.1,381.7 L362.6,383.1 L363.1,384.4 L363.6,385.7 L364.1,386.9 L364.6,388.0 L365.1,389.1 L365.6,390.1 L366.1,391.0 L366.6,391.9 L367.1,392.7 L367.6,393.5 L368.1,394.3 L368.6,395.1 L369.1,395.8 L369.6,396.4 L370.1,397.1 L370.6,397.7 L371.1,398.2 L371.6,398.7 L372.1,399.2 L372.6,399.6 L373.1,400.0 L373.6,400.4 L374.1,400.8 L374.6,401.2 L375.1,401.5 L375.6,401.8 L376.1,402.2 L376.6,402.5 L377.1,402.8 L377.6,403.1 L378.1,403.4 L378.6,403.7 L379.1,404.0 L379.6,404.3 L380.1,404.6 L380.6,404.9 L381.1,405.1 L381.6,405.4 L382.1,405.7 L382.6,406.0 L383.1,406.2 L383.6,406.5 L384.1,406.7 L384.6,407.0 L385.1,407.2 L385.6,407.4 L386.1,407.7 L386.6,407.9 L387.1,408.1 L387.6,408.2 L388.1,408.4 L388.6,408.6 L389.1,408.8 L389.6,409.0 L390.1,409.1 L390.6,409.3 L391.1,409.5 L391.6,409.6 L392.1,409.8 L392.6,409.9 L393.1,410.0 L393.6,410.1 L394.1,410.2 L394.6,410.3 L395.1,410.4 L395.6,410.5 L396.1,410.6 L396.6,410.6 L397.1,410.7 L397.6,410.8 L398.1,410.8 L398.6,410.9 L399.1,411.0 L399.6,411.0 L400.1,411.1 L400.6,411.1 L401.1,411.1 L401.6,411.2 L402.1,411.2 L402.6,411.2 L403.1,411.2 L403.6,411.2 L404.1,411.2 L404.6,411.2 L405.1,411.1 L405.6,411.1 L406.1,411.1 L406.6,411.0 L407.1,411.0 L407.6,410.9 L408.1,410.9 L408.6,410.8 L409.1,410.7 L409.6,410.6 L410.1,410.3 L410.6,409.9 L411.1,409.5 L411.6,409.1 L412.1,408.9 L412.6,408.9 L413.1,409.1 L413.6,409.3 L414.1,409.6 L414.6,409.8 L415.1,410.0 L415.6,410.0 L416.1,410.0 L416.6,410.0 L417.1,409.9 L417.6,409.8 L418.1,409.8 L418.6,409.7 L419.1,409.6 L419.6,409.4 L420.1,409.3 L420.6,409.2 L421.1,408.9 L421.6,408.5 L422.1,408.0 L422.6,407.6 L423.1,407.1 L423.6,406.6 L424.1,406.2 L424.6,405.8 L425.1,405.3 L425.6,404.8 L426.1,404.4 L426.6,404.2 L427.1,404.1 L427.6,404.3 L428.1,404.7 L428.6,405.2 L429.1,405.9 L429.6,406.5 L430.1,407.0 L430.6,407.5 L431.1,407.9 L431.6,408.3 L432.1,408.7 L432.6,409.1 L433.1,409.5 L433.6,409.8 L434.1,409.9 L434.6,410.0 L435.1,410.1 L435.6,410.1 L436.1,410.2 L436.6,410.2 L437.1,410.3 L437.6,410.3 L438.1,410.3 L438.6,410.4 L439.1,410.4 L439.6,410.4 L440.1,410.4 L440.6,410.4 L441.1,410.4 L441.6,410.3 L442.1,410.2 L442.6,410.0 L443.1,409.8 L443.6,409.5 L444.1,409.3 L444.6,409.0 L445.1,408.7 L445.6,408.4 L446.1,408.2 L446.6,408.0 L447.1,407.8 L447.6,407.6 L448.1,407.3 L448.6,407.1 L449.1,406.9 L449.6,406.7 L450.1,406.6 L450.6,406.5 L451.1,406.5 L451.6,406.6 L452.1,406.7 L452.6,406.9 L453.1,407.2 L453.6,407.4 L454.1,407.7 L454.6,407.9 L455.1,408.2 L455.6,408.4 L456.1,408.6 L456.6,408.8 L457.1,409.1 L457.6,409.2 L458.1,409.4 L458.6,409.4 L459.1,409.4 L459.6,409.4 L460.1,409.3 L460.6,409.3 L461.1,409.2 L461.6,409.2 L462.1,409.1 L462.6,409.0 L463.1,409.0 L463.6,408.9 L464.1,408.8 L464.6,408.8 L465.1,408.7 L465.6,408.6 L466.1,408.6 L466.6,408.5 L467.1,408.4 L467.6,408.4 L468.1,408.3 L468.6,408.3 L469.1,408.2 L469.6,408.1 L470.1,408.1 L470.6,408.0 L471.1,407.9 L471.6,407.8 L472.1,407.7 L472.6,407.6 L473.1,407.5 L473.6,407.4 L474.1,407.2 L474.6,407.0 L475.1,406.7 L475.6,406.3 L476.1,405.9 L476.6,405.5 L477.1,405.1 L477.6,404.6 L478.1,404.1 L478.6,403.6 L479.1,403.1 L479.6,402.6 L480.1,402.0 L480.6,401.4 L481.1,400.8 L481.6,400.2 L482.1,399.5 L482.6,398.8 L483.1,398.1 L483.6,397.4 L484.1,396.7 L484.6,395.9 L485.1,395.2 L485.6,394.5 L486.1,393.8 L486.6,393.1 L487.1,392.4 L487.6,391.6 L488.1,390.8 L488.6,389.9 L489.1,389.1 L489.6,388.3 L490.1,387.5 L490.6,386.8 L491.1,386.2 L491.6,385.7 L492.1,385.3 L492.6,384.9 L493.1,384.7 L493.6,384.4 L494.1,384.2 L494.6,384.1 L495.1,383.9 L495.6,383.9 L496.1,383.9 L496.6,383.9 L497.1,384.0 L497.6,384.1 L498.1,384.1 L498.6,384.2 L499.1,384.2 L499.6,384.3 L500.1,384.3 L500.6,384.3 L501.1,384.1 L501.6,383.8 L502.1,383.4 L502.6,383.0 L503.1,382.5 L503.6,381.9 L504.1,381.3 L504.6,380.7 L505.1,380.2 L505.6,379.6 L506.1,379.0 L506.6,378.3 L507.1,377.6 L507.6,376.9 L508.1,376.1 L508.6,375.3 L509.1,374.4 L509.6,373.6 L510.1,372.7 L510.6,371.8 L511.1,370.9 L511.6,370.0 L512.1,369.1 L512.6,368.2 L513.1,367.3 L513.6,366.4 L514.1,365.4 L514.6,364.5 L515.1,363.4 L515.6,362.4 L516.1,361.4 L516.6,360.3 L517.1,359.3 L517.6,358.3 L518.1,357.3 L518.6,356.3 L519.1,355.4 L519.6,354.5 L520.1,353.5 L520.6,352.6 L521.1,351.7 L521.6,350.7 L522.1,349.8 L522.6,348.9 L523.1,348.1 L523.6,347.3 L524.1,346.6 L524.6,345.9 L525.1,345.3 L525.6,344.8 L526.1,344.3 L526.6,343.9 L527.1,343.4 L527.6,342.9 L528.1,342.5 L528.6,342.1 L529.1,341.7 L529.6,341.4 L530.1,341.1 L530.6,340.9 L531.1,340.8 L531.6,340.7 L532.1,340.7 L532.6,340.7 L533.1,340.7 L533.6,340.7 L534.1,340.8 L534.6,340.8 L535.1,340.8 L535.6,340.9 L536.1,340.9 L536.6,340.9 L537.1,340.9 L537.6,341.0 L538.1,341.0 L538.6,341.0 L539.1,341.0 L539.6,341.0 L540.1,340.9 L540.6,340.8 L541.1,340.7 L541.6,340.6 L542.1,340.4 L542.6,340.2 L543.1,340.0 L543.6,339.7 L544.1,339.5 L544.6,339.2 L545.1,339.0 L545.6,338.7 L546.1,338.4 L546.6,338.2 L547.1,337.9 L547.6,337.5 L548.1,337.2 L548.6,336.8 L549.1,336.4 L549.6,335.9 L550.1,335.5 L550.6,335.1 L551.1,334.7 L551.6,334.2 L552.1,333.8 L552.6,333.4 L553.1,333.0 L553.6,332.7 L554.1,332.3 L554.6,331.9 L555.1,331.5 L555.6,331.1 L556.1,330.7 L556.6,330.2 L557.1,329.7 L557.6,329.1 L558.1,328.4 L558.6,327.7 L559.1,327.0 L559.6,326.1 L560.1,325.3 L560.6,324.5 L561.1,323.6 L561.6,322.7 L562.1,321.9 L562.6,321.1 L563.1,320.3 L563.6,319.4 L564.1,318.6 L564.6,317.7 L565.1,316.8 L565.6,315.9 L566.1,315.0 L566.6,314.2 L567.1,313.4 L567.6,312.6 L568.1,311.9 L568.6,311.3 L569.1,310.7 L569.6,310.1 L570.1,309.5 L570.6,309.0 L571.1,308.5 L571.6,308.0 L572.1,307.7 L572.6,307.5 L573.1,307.3 L573.6,307.2 L574.1,307.2 L574.6,307.1 L575.1,307.0 L575.6,307.0 L576.1,307.0 L576.6,307.1 L577.1,307.2 L577.6,307.4 L578.1,307.6 L578.6,307.8 L579.1,308.1 L579.6,308.3 L580.1,308.5 L580.6,308.7 L581.1,308.8 L581.6,308.8 L582.1,308.7 L582.6,308.6 L583.1,308.4 L583.6,308.2 L584.1,308.0 L584.6,307.7 L585.1,307.4 L585.6,307.1 L586.1,306.7 L586.6,306.4 L587.1,306.2 L587.6,305.9 L588.1,305.7 L588.6,305.5 L589.1,305.4 L589.6,305.2 L590.1,305.0 L590.6,304.8 L591.1,304.7 L591.6,304.5 L592.1,304.3 L592.6,304.2 L593.1,304.0 L593.6,303.8 L594.1,303.6 L594.6,303.4 L595.1,303.2 L595.6,303.0 L596.1,302.8 L596.6,302.5 L597.1,302.2 L597.6,301.9 L598.1,301.6 L598.6,301.3 L599.1,301.0 L599.6,300.7 L600.1,300.4 L600.6,300.1 L601.1,299.7 L601.6,299.4 L602.1,299.1 L602.6,298.8 L603.1,298.5 L603.6,298.2 L604.1,298.0 L604.6,297.7 L605.1,297.4 L605.6,297.1 L606.1,296.8 L606.6,296.5 L607.1,296.2 L607.6,295.9 L608.1,295.6 L608.6,295.3 L609.1,295.1 L609.6,294.9 L610.1,294.7 L610.6,294.6 L611.1,294.4 L611.6,294.4 L612.1,294.3 L612.6,294.2 L613.1,294.2 L613.6,294.1 L614.1,294.1 L614.6,294.0 L615.1,294.0 L615.6,294.0 L616.1,293.9 L616.6,293.9 L617.1,293.9 L617.6,293.8 L618.1,293.8 L618.6,293.7 L619.1,293.6 L619.6,293.5 L620.1,293.3 L620.6,293.1 L621.1,292.9 L621.6,292.6 L622.1,292.3 L622.6,292.0 L623.1,291.7 L623.6,291.4 L624.1,291.1 L624.6,290.8 L625.1,290.6 L625.6,290.4 L626.1,290.2 L626.6,290.0 L627.1,289.8 L627.6,289.6 L628.1,289.4 L628.6,289.2 L629.1,289.1 L629.6,288.9 L630.1,288.8 L630.6,288.7 L631.1,288.6 L631.6,288.6 L632.1,288.6 L632.6,288.6 L633.1,288.6 L633.6,288.6 L634.1,288.7 L634.6,288.7 L635.1,288.7 L635.6,288.7 L636.1,288.8 L636.6,288.8 L637.1,288.8 L637.6,288.9 L638.1,288.9 L638.6,288.9 L639.1,289.0 L639.6,289.1 L640.1,289.2 L640.6,289.2 L641.1,289.3 L641.6,289.4 L642.1,289.5 L642.6,289.6 L643.1,289.6 L643.6,289.7 L644.1,289.7 L644.6,289.7 L645.1,289.7 L645.6,289.6 L646.1,289.5 L646.6,289.4 L647.1,289.3 L647.6,289.2 L648.1,289.1 L648.6,288.9 L649.1,288.8 L649.6,288.7 L650.1,288.6 L650.6,288.5 L651.1,288.4 L651.6,288.4 L652.1,288.3 L652.6,288.2 L653.1,288.2 L653.6,288.1 L654.1,288.1 L654.6,288.1 L655.1,288.2 L655.6,288.6 L656.1,289.2 L656.6,290.0 L657.1,290.9 L657.6,291.8 L658.1,292.6 L658.6,293.4 L659.1,294.2 L659.6,295.1 L660.1,295.9 L660.6,296.8 L661.1,297.7 L661.6,298.6 L662.1,299.5 L662.6,300.4 L663.1,301.3 L663.6,302.2 L664.1,303.1 L664.6,304.1 L665.1,305.0 L665.6,305.9 L666.1,306.8 L666.6,307.7 L667.1,308.6 L667.6,309.4 L668.1,310.3 L668.6,311.2 L669.1,312.1 L669.6,313.0 L670.1,313.8 L670.6,314.7 L671.1,315.5 L671.6,316.3 L672.1,317.1 L672.6,317.8 L673.1,318.5 L673.6,319.2 L674.1,319.8 L674.6,320.4 L675.1,321.0 L675.6,321.5 L676.1,322.1 L676.6,322.7 L677.1,323.2 L677.6,323.7 L678.1,324.2 L678.6,324.6 L679.1,325.0 L679.6,325.3 L680.1,325.6 L680.6,325.8 L681.1,325.9 L681.6,326.1 L682.1,326.2 L682.6,326.3 L683.1,326.4 L683.6,326.5 L684.1,326.6 L684.6,326.7 L685.1,326.8 L685.6,326.8 L686.1,326.9 L686.6,326.9 L687.1,326.9 L687.6,326.9 L688.1,326.8 L688.6,326.8 L689.1,326.7 L689.6,326.6 L690.1,326.5 L690.6,326.4 L691.1,326.2 L691.6,326.1 L692.1,326.0 L692.6,325.9 L693.1,325.8 L693.6,325.8 L694.1,325.7 L694.6,325.6 L695.1,325.5 L695.6,325.4 L696.1,325.3 L696.6,325.3 L697.1,325.2 L697.6,325.2 L698.1,325.1 L698.6,325.1 L699.1,325.1 L699.6,325.2 L700.1,325.3 L700.6,325.6 L701.1,325.8 L701.6,326.1 L702.1,326.4 L702.6,326.8 L703.1,327.1 L703.6,327.5 L704.1,327.9 L704.6,328.2 L705.1,328.5 L705.6,328.8 L706.1,329.1 L706.6,329.4 L707.1,329.6 L707.6,329.9 L708.1,330.1 L708.6,330.4 L709.1,330.7 L709.6,330.9 L710.1,331.2 L710.6,331.4 L711.1,331.6 L711.6,331.8 L712.1,332.0 L712.6,332.2 L713.1,332.4 L713.6,332.5 L714.1,332.7 L714.6,332.8 L715.1,332.9 L715.6,333.0 L716.1,333.1 L716.6,333.2 L717.1,333.2 L717.6,333.3 L718.1,333.4 L718.6,333.5 L719.1,333.5 L719.6,333.6 L720.1,333.7 L720.6,333.8 L721.1,333.9 L721.6,334.0 L722.1,334.1 L722.6,334.2 L723.1,334.4 L723.6,334.5 L724.1,334.6 L724.6,334.8 L725.1,334.9 L725.6,335.1 L726.1,335.2 L726.6,335.4 L727.1,335.5 L727.6,335.7 L728.1,335.9 L728.6,336.1 L729.1,336.3 L729.6,336.4 L730.1,336.6 L730.6,336.8 L731.1,337.1 L731.6,337.3 L732.1,337.5 L732.6,337.8 L733.1,338.0 L733.6,338.3 L734.1,338.5 L734.6,338.8 L735.1,339.1 L735.6,339.3 L736.1,339.6 L736.6,339.9 L737.1,340.1 L737.6,340.4 L738.1,340.7 L738.6,341.0 L739.1,341.2 L739.6,341.5 L740.1,341.8 L740.6,342.1 L741.1,342.4 L741.6,342.7 L742.1,343.0 L742.6,343.3 L743.1,343.6 L743.6,343.9 L744.1,344.1 L744.6,344.4 L745.1,344.7 L745.6,344.9 L746.1,345.1 L746.6,345.4 L747.1,345.6 L747.6,345.9 L748.1,346.1 L748.6,346.3 L749.1,346.5 L749.6,346.8 L750.1,347.0 L750.6,347.2 L751.1,347.4 L751.6,347.6 L752.1,347.8 L752.6,348.0 L753.1,348.2 L753.6,348.4 L754.1,348.6 L754.6,348.7 L755.1,348.9 L755.6,349.1 L756.1,349.3 L756.6,349.4 L757.1,349.6 L757.6,349.8 L758.1,349.9 L758.6,350.1 L759.1,350.3 L759.6,350.4 L760.1,350.5 L760.6,350.7 L761.1,350.8 L761.6,351.0 L762.1,351.1" stroke="#808080" stroke-width="2.1"/>
<path d="M96.6,316.3 L97.1,315.6 L97.6,315.5 L98.1,316.6 L98.6,314.6 L99.1,316.9 L99.6,317.2 L100.1,318.1 L100.6,316.3 L101.1,316.8 L101.6,316.8 L102.1,318.4 L102.6,319.1 L103.1,319.2 L103.6,319.6 L104.1,320.7 L104.6,320.5 L105.1,320.5 L105.6,321.6 L106.1,320.6 L106.6,319.2 L107.1,321.7 L107.6,321.4 L108.1,321.8 L108.6,323.0 L109.1,322.4 L109.6,323.4 L110.1,323.0 L110.6,323.2 L111.1,322.7 L111.6,324.9 L112.1,324.6 L112.6,324.2 L113.1,325.6 L113.6,324.7 L114.1,326.3 L114.6,326.5 L115.1,326.2 L115.6,325.8 L116.1,327.0 L116.6,327.4 L117.1,327.8 L117.6,328.2 L118.1,327.4 L118.6,327.5 L119.1,328.6 L119.6,328.8 L120.1,328.6 L120.6,329.5 L121.1,329.7 L121.6,329.9 L122.1,328.2 L122.6,330.5 L123.1,329.1 L123.6,330.4 L124.1,331.0 L124.6,331.6 L125.1,331.8 L125.6,332.5 L126.1,332.8 L126.6,332.8 L127.1,331.2 L127.6,333.4 L128.1,331.3 L128.6,333.8 L129.1,333.6 L129.6,333.9 L130.1,334.7 L130.6,334.9 L131.1,333.8 L131.6,333.7 L132.1,334.8 L132.6,333.9 L133.1,335.5 L133.6,335.0 L134.1,335.9 L134.6,336.6 L135.1,336.0 L135.6,337.5 L136.1,337.8 L136.6,338.3 L137.1,338.0 L137.6,336.9 L138.1,338.9 L138.6,339.3 L139.1,338.6 L139.6,339.3 L140.1,339.9 L140.6,339.5 L141.1,340.6 L141.6,339.0 L142.1,338.9 L142.6,341.0 L143.1,340.6 L143.6,341.5 L144.1,341.2 L144.6,342.0 L145.1,341.1 L145.6,342.7 L146.1,340.4 L146.6,342.0 L147.1,342.3 L147.6,342.8 L148.1,343.6 L148.6,343.2 L149.1,343.6 L149.6,344.0 L150.1,344.0 L150.6,344.3 L151.1,345.0 L151.6,344.5 L152.1,344.3 L152.6,345.4 L153.1,344.0 L153.6,345.9 L154.1,346.2 L154.6,346.6 L155.1,345.4 L155.6,346.4 L156.1,346.7 L156.6,347.2 L157.1,347.2 L157.6,347.9 L158.1,347.9 L158.6,349.0 L159.1,347.8 L159.6,348.2 L160.1,347.5 L160.6,349.1 L161.1,350.2 L161.6,350.6 L162.1,350.9 L162.6,351.1 L163.1,351.5 L163.6,350.9 L164.1,350.2 L164.6,352.7 L165.1,352.3 L165.6,353.1 L166.1,353.4 L166.6,353.0 L167.1,353.5 L167.6,353.7 L168.1,354.4 L168.6,354.3 L169.1,353.2 L169.6,353.2 L170.1,354.2 L170.6,355.5 L171.1,353.6 L171.6,355.5 L172.1,356.2 L172.6,356.4 L173.1,356.2 L173.6,356.7 L174.1,356.6 L174.6,356.5 L175.1,357.0 L175.6,357.2 L176.1,356.6 L176.6,357.8 L177.1,357.2 L177.6,358.0 L178.1,357.3 L178.6,358.1 L179.1,358.1 L179.6,358.4 L180.1,358.8 L180.6,358.8 L181.1,358.8 L181.6,358.5 L182.1,358.3 L182.6,358.2 L183.1,359.6 L183.6,359.0 L184.1,359.4 L184.6,359.4 L185.1,360.0 L185.6,359.6 L186.1,359.3 L186.6,359.7 L187.1,358.5 L187.6,360.0 L188.1,358.9 L188.6,360.7 L189.1,359.9 L189.6,360.2 L190.1,359.6 L190.6,360.1 L191.1,359.1 L191.6,360.2 L192.1,360.3 L192.6,359.1 L193.1,357.6 L193.6,358.3 L194.1,359.0 L194.6,358.4 L195.1,357.8 L195.6,357.4 L196.1,356.6 L196.6,357.0 L197.1,355.6 L197.6,355.6 L198.1,354.8 L198.6,352.0 L199.1,352.3 L199.6,352.0 L200.1,350.9 L200.6,349.5 L201.1,347.7 L201.6,346.7 L202.1,344.8 L202.6,342.4 L203.1,341.3 L203.6,339.8 L204.1,338.2 L204.6,335.2 L205.1,333.3 L205.6,331.1 L206.1,328.2 L206.6,325.6 L207.1,323.6 L207.6,319.9 L208.1,318.2 L208.6,315.5 L209.1,312.7 L209.6,312.0 L210.1,309.8 L210.6,307.5 L211.1,304.9 L211.6,303.3 L212.1,301.2 L212.6,299.0 L213.1,295.4 L213.6,294.7 L214.1,292.1 L214.6,290.4 L215.1,288.8 L215.6,286.6 L216.1,284.5 L216.6,282.9 L217.1,280.6 L217.6,278.4 L218.1,276.3 L218.6,274.0 L219.1,272.8 L219.6,270.5 L220.1,267.7 L220.6,264.9 L221.1,263.5 L221.6,260.8 L222.1,258.6 L222.6,255.1 L223.1,253.4 L223.6,251.7 L224.1,248.6 L224.6,246.1 L225.1,244.5 L225.6,242.1 L226.1,239.3 L226.6,237.4 L227.1,235.3 L227.6,232.9 L228.1,229.8 L228.6,229.1 L229.1,226.0 L229.6,224.5 L230.1,222.0 L230.6,220.2 L231.1,218.1 L231.6,217.0 L232.1,213.9 L232.6,212.5 L233.1,209.9 L233.6,208.5 L234.1,206.0 L234.6,204.0 L235.1,201.6 L235.6,198.9 L236.1,195.9 L236.6,193.2 L237.1,190.5 L237.6,187.4 L238.1,184.9 L238.6,181.0 L239.1,178.8 L239.6,175.2 L240.1,171.6 L240.6,167.5 L241.1,164.2 L241.6,159.9 L242.1,155.6 L242.6,152.3 L243.1,148.6 L243.6,144.0 L244.1,139.8 L244.6,136.2 L245.1,130.4 L245.6,127.6 L246.1,123.5 L246.6,118.9 L247.1,115.2 L247.6,110.1 L248.1,106.2 L248.6,101.1 L249.1,95.8 L249.6,92.1 L250.1,86.4 L250.6,81.9 L251.1,76.0 L251.6,69.2 L252.1,62.5 L252.6,56.7 L253.1,51.4 L253.6,47.2 L254.1,42.7 L254.6,40.1 L255.1,38.3 L255.6,36.7 L256.1,33.2 L256.6,33.8 L257.1,33.0 L257.6,33.9 L258.1,33.8 L258.6,33.3 L259.1,33.1 L259.6,32.8 L260.1,33.5 L260.6,33.3 L261.1,33.3 L261.6,33.2 L262.1,33.1 L262.6,32.5 L263.1,33.1 L263.6,32.5 L264.1,32.1 L264.6,32.9 L265.1,31.8 L265.6,31.8 L266.1,31.5 L266.6,31.1 L267.1,31.4 L267.6,30.8 L268.1,30.7 L268.6,29.2 L269.1,29.1 L269.6,29.0 L270.1,28.3 L270.6,27.8 L271.1,27.1 L271.6,26.2 L272.1,25.9 L272.6,24.3 L273.1,23.8 L273.6,24.5 L274.1,23.7 L274.6,24.0 L275.1,23.5 L275.6,24.1 L276.1,23.7 L276.6,23.4 L277.1,23.9 L277.6,24.5 L278.1,24.8 L278.6,25.5 L279.1,24.5 L279.6,26.5 L280.1,27.5 L280.6,27.2 L281.1,28.4 L281.6,28.8 L282.1,28.4 L282.6,28.8 L283.1,29.0 L283.6,30.8 L284.1,31.4 L284.6,31.2 L285.1,32.6 L285.6,32.4 L286.1,34.9 L286.6,36.1 L287.1,38.6 L287.6,40.5 L288.1,42.7 L288.6,45.3 L289.1,48.5 L289.6,51.2 L290.1,53.7 L290.6,57.0 L291.1,60.0 L291.6,62.6 L292.1,64.8 L292.6,68.0 L293.1,69.8 L293.6,71.6 L294.1,73.7 L294.6,76.3 L295.1,77.4 L295.6,79.7 L296.1,81.4 L296.6,84.2 L297.1,85.9 L297.6,86.7 L298.1,88.8 L298.6,91.1 L299.1,92.8 L299.6,95.1 L300.1,96.8 L300.6,97.6 L301.1,100.2 L301.6,101.3 L302.1,102.7 L302.6,104.7 L303.1,106.1 L303.6,106.7 L304.1,108.2 L304.6,109.7 L305.1,110.9 L305.6,111.9 L306.1,113.0 L306.6,114.1 L307.1,114.3 L307.6,116.2 L308.1,117.0 L308.6,117.8 L309.1,117.6 L309.6,119.5 L310.1,119.9 L310.6,120.1 L311.1,120.3 L311.6,120.7 L312.1,122.2 L312.6,122.9 L313.1,123.2 L313.6,123.7 L314.1,124.6 L314.6,124.2 L315.1,124.8 L315.6,125.0 L316.1,124.1 L316.6,124.2 L317.1,125.9 L317.6,125.6 L318.1,126.7 L318.6,126.8 L319.1,127.3 L319.6,128.0 L320.1,129.6 L320.6,129.5 L321.1,130.9 L321.6,130.3 L322.1,131.4 L322.6,133.3 L323.1,133.6 L323.6,135.1 L324.1,136.2 L324.6,136.2 L325.1,137.7 L325.6,139.7 L326.1,140.2 L326.6,141.8 L327.1,143.4 L327.6,144.4 L328.1,145.6 L328.6,147.7 L329.1,148.6 L329.6,151.0 L330.1,151.8 L330.6,154.3 L331.1,156.6 L331.6,158.5 L332.1,160.8 L332.6,163.5 L333.1,166.2 L333.6,168.8 L334.1,173.3 L334.6,176.7 L335.1,180.7 L335.6,185.5 L336.1,190.0 L336.6,195.2 L337.1,200.2 L337.6,205.5 L338.1,213.1 L338.6,218.8 L339.1,220.9 L339.6,223.7 L340.1,224.9 L340.6,227.4 L341.1,229.1 L341.6,232.2 L342.1,234.7 L342.6,236.9 L343.1,240.1 L343.6,242.9 L344.1,245.9 L344.6,248.2 L345.1,251.4 L345.6,254.5 L346.1,256.6 L346.6,259.4 L347.1,262.1 L347.6,265.3 L348.1,266.6 L348.6,269.2 L349.1,272.2 L349.6,274.8 L350.1,277.6 L350.6,279.7 L351.1,281.9 L351.6,283.0 L352.1,285.3 L352.6,287.3 L353.1,289.1 L353.6,290.2 L354.1,292.3 L354.6,292.4 L355.1,294.7 L355.6,296.1 L356.1,296.3 L356.6,297.8 L357.1,298.8 L357.6,300.1 L358.1,301.5 L358.6,302.9 L359.1,303.5 L359.6,305.0 L360.1,306.1 L360.6,307.2 L361.1,308.2 L361.6,309.3 L362.1,310.5 L362.6,311.3 L363.1,312.7 L363.6,313.8 L364.1,314.2 L364.6,314.2 L365.1,316.3 L365.6,317.8 L366.1,318.7 L366.6,319.3 L367.1,320.4 L367.6,321.4 L368.1,322.9 L368.6,324.1 L369.1,325.0 L369.6,326.4 L370.1,327.6 L370.6,328.1 L371.1,328.9 L371.6,330.6 L372.1,330.8 L372.6,332.3 L373.1,332.8 L373.6,334.5 L374.1,335.1 L374.6,334.8 L375.1,336.6 L375.6,337.4 L376.1,337.9 L376.6,339.5 L377.1,340.0 L377.6,340.4 L378.1,341.4 L378.6,342.2 L379.1,342.5 L379.6,343.1 L380.1,343.7 L380.6,344.4 L381.1,344.9 L381.6,345.1 L382.1,345.0 L382.6,345.1 L383.1,345.9 L383.6,346.6 L384.1,347.2 L384.6,347.7 L385.1,347.7 L385.6,348.1 L386.1,347.7 L386.6,348.5 L387.1,347.5 L387.6,348.4 L388.1,349.2 L388.6,349.8 L389.1,350.2 L389.6,349.7 L390.1,350.1 L390.6,350.9 L391.1,350.4 L391.6,351.3 L392.1,351.4 L392.6,351.8 L393.1,351.8 L393.6,351.3 L394.1,351.8 L394.6,352.0 L395.1,352.0 L395.6,352.5 L396.1,352.9 L396.6,351.7 L397.1,353.3 L397.6,352.9 L398.1,353.4 L398.6,352.9 L399.1,353.3 L399.6,353.4 L400.1,353.3 L400.6,354.2 L401.1,353.5 L401.6,354.2 L402.1,354.0 L402.6,354.5 L403.1,353.8 L403.6,354.0 L404.1,354.5 L404.6,354.5 L405.1,354.4 L405.6,354.2 L406.1,353.4 L406.6,354.5 L407.1,353.8 L407.6,354.2 L408.1,354.0 L408.6,354.1 L409.1,354.4 L409.6,354.0 L410.1,354.4 L410.6,353.4 L411.1,353.6 L411.6,353.9 L412.1,354.1 L412.6,354.1 L413.1,353.5 L413.6,353.8 L414.1,354.1 L414.6,352.8 L415.1,353.6 L415.6,353.7 L416.1,353.4 L416.6,353.5 L417.1,353.2 L417.6,353.5 L418.1,353.4 L418.6,352.3 L419.1,353.2 L419.6,353.1 L420.1,352.9 L420.6,352.1 L421.1,352.7 L421.6,352.8 L422.1,352.7 L422.6,352.0 L423.1,352.1 L423.6,351.7 L424.1,352.1 L424.6,351.4 L425.1,351.6 L425.6,351.6 L426.1,351.2 L426.6,351.5 L427.1,351.4 L427.6,351.3 L428.1,350.8 L428.6,350.0 L429.1,350.6 L429.6,350.4 L430.1,350.3 L430.6,350.3 L431.1,350.2 L431.6,350.4 L432.1,349.9 L432.6,350.2 L433.1,350.0 L433.6,349.7 L434.1,349.9 L434.6,348.9 L435.1,349.6 L435.6,349.3 L436.1,349.5 L436.6,348.9 L437.1,349.1 L437.6,348.7 L438.1,348.6 L438.6,348.8 L439.1,348.2 L439.6,348.5 L440.1,348.5 L440.6,348.0 L441.1,348.0 L441.6,348.0 L442.1,347.0 L442.6,347.9 L443.1,347.7 L443.6,347.6 L444.1,347.7 L444.6,347.4 L445.1,347.5 L445.6,346.4 L446.1,347.3 L446.6,346.6 L447.1,347.1 L447.6,346.8 L448.1,346.3 L448.6,346.9 L449.1,346.8 L449.6,346.7 L450.1,345.5 L450.6,346.1 L451.1,346.3 L451.6,346.2 L452.1,346.2 L452.6,346.2 L453.1,346.0 L453.6,345.5 L454.1,345.6 L454.6,345.8 L455.1,345.8 L455.6,345.6 L456.1,345.5 L456.6,345.2 L457.1,345.5 L457.6,344.9 L458.1,344.8 L458.6,344.5 L459.1,344.7 L459.6,344.8 L460.1,344.5 L460.6,344.0 L461.1,343.7 L461.6,343.8 L462.1,344.1 L462.6,344.0 L463.1,343.8 L463.6,343.8 L464.1,342.6 L464.6,343.2 L465.1,342.6 L465.6,342.8 L466.1,342.7 L466.6,342.1 L467.1,341.8 L467.6,341.7 L468.1,342.0 L468.6,341.5 L469.1,341.2 L469.6,340.7 L470.1,340.5 L470.6,340.2 L471.1,340.1 L471.6,339.0 L472.1,339.1 L472.6,339.2 L473.1,338.7 L473.6,338.6 L474.1,337.9 L474.6,337.9 L475.1,337.2 L475.6,337.3 L476.1,336.3 L476.6,335.9 L477.1,336.1 L477.6,335.0 L478.1,335.2 L478.6,334.8 L479.1,333.9 L479.6,333.8 L480.1,333.1 L480.6,332.4 L481.1,332.3 L481.6,332.0 L482.1,331.6 L482.6,330.1 L483.1,330.8 L483.6,330.0 L484.1,329.5 L484.6,329.4 L485.1,327.7 L485.6,328.1 L486.1,327.6 L486.6,327.0 L487.1,326.0 L487.6,326.0 L488.1,325.7 L488.6,324.9 L489.1,324.3 L489.6,323.8 L490.1,322.4 L490.6,322.5 L491.1,321.9 L491.6,321.5 L492.1,320.4 L492.6,319.6 L493.1,318.6 L493.6,318.4 L494.1,317.1 L494.6,316.6 L495.1,315.9 L495.6,315.3 L496.1,314.4 L496.6,313.8 L497.1,313.4 L497.6,312.0 L498.1,311.2 L498.6,310.7 L499.1,310.1 L499.6,308.5 L500.1,308.9 L500.6,307.8 L501.1,306.9 L501.6,305.6 L502.1,305.5 L502.6,304.3 L503.1,303.9 L503.6,302.6 L504.1,302.2 L504.6,301.2 L505.1,300.2 L505.6,299.8 L506.1,298.4 L506.6,297.9 L507.1,296.7 L507.6,296.0 L508.1,295.1 L508.6,293.6 L509.1,292.8 L509.6,291.4 L510.1,291.0 L510.6,289.8 L511.1,289.0 L511.6,287.8 L512.1,287.1 L512.6,286.0 L513.1,285.1 L513.6,284.1 L514.1,282.7 L514.6,282.4 L515.1,281.8 L515.6,281.2 L516.1,279.8 L516.6,279.0 L517.1,278.3 L517.6,277.9 L518.1,277.0 L518.6,275.2 L519.1,275.1 L519.6,274.0 L520.1,273.2 L520.6,272.4 L521.1,271.7 L521.6,269.9 L522.1,268.8 L522.6,268.4 L523.1,267.8 L523.6,267.1 L524.1,265.8 L524.6,265.6 L525.1,264.7 L525.6,264.2 L526.1,263.5 L526.6,263.3 L527.1,263.3 L527.6,262.5 L528.1,263.4 L528.6,263.6 L529.1,262.7 L529.6,263.8 L530.1,263.8 L530.6,264.0 L531.1,264.0 L531.6,264.3 L532.1,264.5 L532.6,265.1 L533.1,265.3 L533.6,265.7 L534.1,266.0 L534.6,265.8 L535.1,266.3 L535.6,265.9 L536.1,267.0 L536.6,267.3 L537.1,267.6 L537.6,267.7 L538.1,267.4 L538.6,267.7 L539.1,267.8 L539.6,267.4 L540.1,266.8 L540.6,266.6 L541.1,266.7 L541.6,266.1 L542.1,266.2 L542.6,265.3 L543.1,264.9 L543.6,264.3 L544.1,264.6 L544.6,263.9 L545.1,263.7 L545.6,263.8 L546.1,263.1 L546.6,263.4 L547.1,262.5 L547.6,262.4 L548.1,262.2 L548.6,262.0 L549.1,261.8 L549.6,261.6 L550.1,261.3 L550.6,260.7 L551.1,260.7 L551.6,259.8 L552.1,260.4 L552.6,259.8 L553.1,260.0 L553.6,259.8 L554.1,258.7 L554.6,259.4 L555.1,258.8 L555.6,258.9 L556.1,258.9 L556.6,257.8 L557.1,258.6 L557.6,258.0 L558.1,257.7 L558.6,257.8 L559.1,257.4 L559.6,256.6 L560.1,256.9 L560.6,256.6 L561.1,256.5 L561.6,255.8 L562.1,255.9 L562.6,255.4 L563.1,253.8 L563.6,254.1 L564.1,253.4 L564.6,252.6 L565.1,251.2 L565.6,250.2 L566.1,249.8 L566.6,248.4 L567.1,247.1 L567.6,246.6 L568.1,245.5 L568.6,244.9 L569.1,244.1 L569.6,243.3 L570.1,242.6 L570.6,241.3 L571.1,241.1 L571.6,240.3 L572.1,239.5 L572.6,238.8 L573.1,237.8 L573.6,237.2 L574.1,236.7 L574.6,235.7 L575.1,235.1 L575.6,234.0 L576.1,232.5 L576.6,231.9 L577.1,231.4 L577.1,245.5 L576.6,245.9 L576.1,246.6 L575.6,247.4 L575.1,248.7 L574.6,249.4 L574.1,250.1 L573.6,251.4 L573.1,251.8 L572.6,253.1 L572.1,253.0 L571.6,253.9 L571.1,254.4 L570.6,254.9 L570.1,256.1 L569.6,257.1 L569.1,257.2 L568.6,258.1 L568.1,259.8 L567.6,260.3 L567.1,261.0 L566.6,262.2 L566.1,263.1 L565.6,264.0 L565.1,265.1 L564.6,266.3 L564.1,267.0 L563.6,267.6 L563.1,268.2 L562.6,268.9 L562.1,269.0 L561.6,270.0 L561.1,270.0 L560.6,270.6 L560.1,271.3 L559.6,270.5 L559.1,270.9 L558.6,271.5 L558.1,271.6 L557.6,272.0 L557.1,271.8 L556.6,271.9 L556.1,272.7 L555.6,273.0 L555.1,272.8 L554.6,272.8 L554.1,273.2 L553.6,273.3 L553.1,273.4 L552.6,274.1 L552.1,273.7 L551.6,274.2 L551.1,274.3 L550.6,274.6 L550.1,275.8 L549.6,275.0 L549.1,275.0 L548.6,275.7 L548.1,275.6 L547.6,276.2 L547.1,276.2 L546.6,276.7 L546.1,276.7 L545.6,277.5 L545.1,278.0 L544.6,278.8 L544.1,278.4 L543.6,278.9 L543.1,278.9 L542.6,279.2 L542.1,279.5 L541.6,280.1 L541.1,279.9 L540.6,280.6 L540.1,281.0 L539.6,281.2 L539.1,281.3 L538.6,281.4 L538.1,281.2 L537.6,281.5 L537.1,281.1 L536.6,281.3 L536.1,280.4 L535.6,280.0 L535.1,280.3 L534.6,280.2 L534.1,279.3 L533.6,279.4 L533.1,279.1 L532.6,278.9 L532.1,278.5 L531.6,278.3 L531.1,278.2 L530.6,277.8 L530.1,277.8 L529.6,277.1 L529.1,276.8 L528.6,277.0 L528.1,276.7 L527.6,276.6 L527.1,276.6 L526.6,277.8 L526.1,277.5 L525.6,278.4 L525.1,278.9 L524.6,279.5 L524.1,279.8 L523.6,281.1 L523.1,281.0 L522.6,282.3 L522.1,282.9 L521.6,284.0 L521.1,285.1 L520.6,285.8 L520.1,286.8 L519.6,288.2 L519.1,289.2 L518.6,289.5 L518.1,290.5 L517.6,291.5 L517.1,292.1 L516.6,293.7 L516.1,294.0 L515.6,294.4 L515.1,295.2 L514.6,296.2 L514.1,296.9 L513.6,297.7 L513.1,298.7 L512.6,300.0 L512.1,301.1 L511.6,301.5 L511.1,302.2 L510.6,303.4 L510.1,304.8 L509.6,305.4 L509.1,306.2 L508.6,307.9 L508.1,308.3 L507.6,309.6 L507.1,310.1 L506.6,311.2 L506.1,312.5 L505.6,313.6 L505.1,314.1 L504.6,314.6 L504.1,315.6 L503.6,316.9 L503.1,317.8 L502.6,318.0 L502.1,318.7 L501.6,319.4 L501.1,320.5 L500.6,321.5 L500.1,322.3 L499.6,322.7 L499.1,323.2 L498.6,324.6 L498.1,325.3 L497.6,325.7 L497.1,326.7 L496.6,327.9 L496.1,328.0 L495.6,329.4 L495.1,329.7 L494.6,330.1 L494.1,331.1 L493.6,331.6 L493.1,332.3 L492.6,333.4 L492.1,334.0 L491.6,334.5 L491.1,334.9 L490.6,335.9 L490.1,336.6 L489.6,337.7 L489.1,337.5 L488.6,338.5 L488.1,338.6 L487.6,339.6 L487.1,340.7 L486.6,340.8 L486.1,340.9 L485.6,341.2 L485.1,342.0 L484.6,342.5 L484.1,342.4 L483.6,343.1 L483.1,344.0 L482.6,344.5 L482.1,344.7 L481.6,344.8 L481.1,345.4 L480.6,346.1 L480.1,346.3 L479.6,347.0 L479.1,347.2 L478.6,347.8 L478.1,348.1 L477.6,348.6 L477.1,350.2 L476.6,349.4 L476.1,349.5 L475.6,350.0 L475.1,350.6 L474.6,351.1 L474.1,351.1 L473.6,352.0 L473.1,351.8 L472.6,352.3 L472.1,352.6 L471.6,352.5 L471.1,353.0 L470.6,354.2 L470.1,353.6 L469.6,354.2 L469.1,354.2 L468.6,354.4 L468.1,354.9 L467.6,354.8 L467.1,355.1 L466.6,355.4 L466.1,356.0 L465.6,355.8 L465.1,355.7 L464.6,355.9 L464.1,356.2 L463.6,356.9 L463.1,357.0 L462.6,357.2 L462.1,357.1 L461.6,357.4 L461.1,357.0 L460.6,358.0 L460.1,357.4 L459.6,357.6 L459.1,357.5 L458.6,358.9 L458.1,358.4 L457.6,358.1 L457.1,358.2 L456.6,358.3 L456.1,358.3 L455.6,359.2 L455.1,358.4 L454.6,358.3 L454.1,359.1 L453.6,359.0 L453.1,359.0 L452.6,358.7 L452.1,358.8 L451.6,358.7 L451.1,359.5 L450.6,359.0 L450.1,359.1 L449.6,359.0 L449.1,359.2 L448.6,359.8 L448.1,359.3 L447.6,359.4 L447.1,360.1 L446.6,360.0 L446.1,359.7 L445.6,359.9 L445.1,360.2 L444.6,360.1 L444.1,360.6 L443.6,360.7 L443.1,360.8 L442.6,360.7 L442.1,360.9 L441.6,360.6 L441.1,360.8 L440.6,361.4 L440.1,361.2 L439.6,361.3 L439.1,361.2 L438.6,362.0 L438.1,362.2 L437.6,362.0 L437.1,362.4 L436.6,361.8 L436.1,362.0 L435.6,362.3 L435.1,362.0 L434.6,362.3 L434.1,362.9 L433.6,362.5 L433.1,363.0 L432.6,362.7 L432.1,363.0 L431.6,363.2 L431.1,362.9 L430.6,363.9 L430.1,363.6 L429.6,363.6 L429.1,363.8 L428.6,364.0 L428.1,365.2 L427.6,363.8 L427.1,364.0 L426.6,364.6 L426.1,364.6 L425.6,364.2 L425.1,365.5 L424.6,364.5 L424.1,364.9 L423.6,364.8 L423.1,364.7 L422.6,365.7 L422.1,365.1 L421.6,365.8 L421.1,366.0 L420.6,365.3 L420.1,365.6 L419.6,365.8 L419.1,365.6 L418.6,365.8 L418.1,365.8 L417.6,366.4 L417.1,366.2 L416.6,366.3 L416.1,366.5 L415.6,366.5 L415.1,366.2 L414.6,366.6 L414.1,366.7 L413.6,366.4 L413.1,367.2 L412.6,366.5 L412.1,366.8 L411.6,367.2 L411.1,367.1 L410.6,366.7 L410.1,367.2 L409.6,367.0 L409.1,366.9 L408.6,366.9 L408.1,367.3 L407.6,366.7 L407.1,367.0 L406.6,367.0 L406.1,367.4 L405.6,367.6 L405.1,366.9 L404.6,367.0 L404.1,366.9 L403.6,367.8 L403.1,367.7 L402.6,367.0 L402.1,367.1 L401.6,367.0 L401.1,366.9 L400.6,367.1 L400.1,366.5 L399.6,366.5 L399.1,367.5 L398.6,366.3 L398.1,366.5 L397.6,366.8 L397.1,366.5 L396.6,365.7 L396.1,366.5 L395.6,365.4 L395.1,365.2 L394.6,364.9 L394.1,365.9 L393.6,365.1 L393.1,365.4 L392.6,364.4 L392.1,364.3 L391.6,364.7 L391.1,363.8 L390.6,364.5 L390.1,363.6 L389.6,363.0 L389.1,363.3 L388.6,362.5 L388.1,362.9 L387.6,363.1 L387.1,361.7 L386.6,362.1 L386.1,361.2 L385.6,361.3 L385.1,360.7 L384.6,360.7 L384.1,360.4 L383.6,359.8 L383.1,359.1 L382.6,358.8 L382.1,358.6 L381.6,358.6 L381.1,357.8 L380.6,357.4 L380.1,356.6 L379.6,356.1 L379.1,355.6 L378.6,355.5 L378.1,354.7 L377.6,353.8 L377.1,353.4 L376.6,352.7 L376.1,352.6 L375.6,350.9 L375.1,349.9 L374.6,349.4 L374.1,348.8 L373.6,348.1 L373.1,346.4 L372.6,345.9 L372.1,345.0 L371.6,343.9 L371.1,343.0 L370.6,342.1 L370.1,340.7 L369.6,339.6 L369.1,338.8 L368.6,337.7 L368.1,337.0 L367.6,335.7 L367.1,333.7 L366.6,333.1 L366.1,332.0 L365.6,331.5 L365.1,329.6 L364.6,328.6 L364.1,328.8 L363.6,327.0 L363.1,326.9 L362.6,325.1 L362.1,323.7 L361.6,322.7 L361.1,321.6 L360.6,320.5 L360.1,319.3 L359.6,318.7 L359.1,317.9 L358.6,316.4 L358.1,315.4 L357.6,313.7 L357.1,312.9 L356.6,312.6 L356.1,310.8 L355.6,309.3 L355.1,308.8 L354.6,306.8 L354.1,305.7 L353.6,303.9 L353.1,302.4 L352.6,301.0 L352.1,298.9 L351.6,297.7 L351.1,295.4 L350.6,293.0 L350.1,292.3 L349.6,288.7 L349.1,286.4 L348.6,284.0 L348.1,282.9 L347.6,279.1 L347.1,276.6 L346.6,273.6 L346.1,270.8 L345.6,267.9 L345.1,265.7 L344.6,262.6 L344.1,259.5 L343.6,257.0 L343.1,253.8 L342.6,251.4 L342.1,248.3 L341.6,245.7 L341.1,243.1 L340.6,240.8 L340.1,239.4 L339.6,237.9 L339.1,235.6 L338.6,232.6 L338.1,227.3 L337.6,220.1 L337.1,213.8 L336.6,209.0 L336.1,204.4 L335.6,199.5 L335.1,195.3 L334.6,190.6 L334.1,187.0 L333.6,183.7 L333.1,180.9 L332.6,177.8 L332.1,174.9 L331.6,172.5 L331.1,170.2 L330.6,168.6 L330.1,166.4 L329.6,164.7 L329.1,162.8 L328.6,161.2 L328.1,159.8 L327.6,158.4 L327.1,157.7 L326.6,156.1 L326.1,155.1 L325.6,154.1 L325.1,152.7 L324.6,151.0 L324.1,150.3 L323.6,149.5 L323.1,148.0 L322.6,146.8 L322.1,146.2 L321.6,145.5 L321.1,144.9 L320.6,143.7 L320.1,143.3 L319.6,144.5 L319.1,142.3 L318.6,141.5 L318.1,141.2 L317.6,142.0 L317.1,140.5 L316.6,140.0 L316.1,140.1 L315.6,139.1 L315.1,139.6 L314.6,139.1 L314.1,138.3 L313.6,138.0 L313.1,137.7 L312.6,137.8 L312.1,137.3 L311.6,135.9 L311.1,135.5 L310.6,134.8 L310.1,135.4 L309.6,133.4 L309.1,132.8 L308.6,132.3 L308.1,131.7 L307.6,130.0 L307.1,129.1 L306.6,129.0 L306.1,127.4 L305.6,126.3 L305.1,124.9 L304.6,124.1 L304.1,122.7 L303.6,121.2 L303.1,119.9 L302.6,118.6 L302.1,117.7 L301.6,115.6 L301.1,114.8 L300.6,112.9 L300.1,110.9 L299.6,109.1 L299.1,107.0 L298.6,105.3 L298.1,103.6 L297.6,101.8 L297.1,100.5 L296.6,98.1 L296.1,97.3 L295.6,94.2 L295.1,94.6 L294.6,90.6 L294.1,88.2 L293.6,86.2 L293.1,84.0 L292.6,82.2 L292.1,79.6 L291.6,77.3 L291.1,74.1 L290.6,71.7 L290.1,68.4 L289.6,65.6 L289.1,62.7 L288.6,60.5 L288.1,58.2 L287.6,55.7 L287.1,52.7 L286.6,51.2 L286.1,49.4 L285.6,48.2 L285.1,47.0 L284.6,46.3 L284.1,45.5 L283.6,45.7 L283.1,44.8 L282.6,43.9 L282.1,43.6 L281.6,43.0 L281.1,42.8 L280.6,42.1 L280.1,41.5 L279.6,40.9 L279.1,40.0 L278.6,40.1 L278.1,39.1 L277.6,38.9 L277.1,39.2 L276.6,38.4 L276.1,38.1 L275.6,38.6 L275.1,38.6 L274.6,38.1 L274.1,38.2 L273.6,38.8 L273.1,39.7 L272.6,39.7 L272.1,41.1 L271.6,41.4 L271.1,41.7 L270.6,42.8 L270.1,43.0 L269.6,43.1 L269.1,43.7 L268.6,44.8 L268.1,45.2 L267.6,46.3 L267.1,46.6 L266.6,47.2 L266.1,46.9 L265.6,47.0 L265.1,46.8 L264.6,47.9 L264.1,48.1 L263.6,47.8 L263.1,48.0 L262.6,47.7 L262.1,47.9 L261.6,47.7 L261.1,49.1 L260.6,48.5 L260.1,48.2 L259.6,48.4 L259.1,48.6 L258.6,49.1 L258.1,48.3 L257.6,48.4 L257.1,48.0 L256.6,48.4 L256.1,50.6 L255.6,50.8 L255.1,53.1 L254.6,55.3 L254.1,57.7 L253.6,61.9 L253.1,66.1 L252.6,72.1 L252.1,77.9 L251.6,84.5 L251.1,92.0 L250.6,97.2 L250.1,102.8 L249.6,106.9 L249.1,111.6 L248.6,116.1 L248.1,121.2 L247.6,125.1 L247.1,129.8 L246.6,133.9 L246.1,138.1 L245.6,143.4 L245.1,147.7 L244.6,150.9 L244.1,154.7 L243.6,158.8 L243.1,163.5 L242.6,166.9 L242.1,171.4 L241.6,175.3 L241.1,180.3 L240.6,182.5 L240.1,186.8 L239.6,190.4 L239.1,193.6 L238.6,196.8 L238.1,199.9 L237.6,202.9 L237.1,205.5 L236.6,208.5 L236.1,211.8 L235.6,213.3 L235.1,216.2 L234.6,218.1 L234.1,220.9 L233.6,223.1 L233.1,226.0 L232.6,227.9 L232.1,230.2 L231.6,231.2 L231.1,233.4 L230.6,236.4 L230.1,237.0 L229.6,239.6 L229.1,241.1 L228.6,244.1 L228.1,245.1 L227.6,247.1 L227.1,249.7 L226.6,252.3 L226.1,254.3 L225.6,256.5 L225.1,258.5 L224.6,260.9 L224.1,264.2 L223.6,266.6 L223.1,268.2 L222.6,270.7 L222.1,272.9 L221.6,276.5 L221.1,278.1 L220.6,279.9 L220.1,282.2 L219.6,285.3 L219.1,288.1 L218.6,290.2 L218.1,291.4 L217.6,293.7 L217.1,295.4 L216.6,298.2 L216.1,299.2 L215.6,301.2 L215.1,303.1 L214.6,304.8 L214.1,307.5 L213.6,309.4 L213.1,310.5 L212.6,313.0 L212.1,315.4 L211.6,317.7 L211.1,319.7 L210.6,322.3 L210.1,323.8 L209.6,326.6 L209.1,329.4 L208.6,331.2 L208.1,333.8 L207.6,335.5 L207.1,337.6 L206.6,339.9 L206.1,342.2 L205.6,345.1 L205.1,349.3 L204.6,350.4 L204.1,353.0 L203.6,353.8 L203.1,358.0 L202.6,357.9 L202.1,360.0 L201.6,360.9 L201.1,362.2 L200.6,364.0 L200.1,365.9 L199.6,365.7 L199.1,367.0 L198.6,368.3 L198.1,368.5 L197.6,369.7 L197.1,370.2 L196.6,370.6 L196.1,371.6 L195.6,371.4 L195.1,372.6 L194.6,373.2 L194.1,373.7 L193.6,373.9 L193.1,374.0 L192.6,373.4 L192.1,373.7 L191.6,374.1 L191.1,374.5 L190.6,375.1 L190.1,374.2 L189.6,375.6 L189.1,374.7 L188.6,374.1 L188.1,374.3 L187.6,375.7 L187.1,374.0 L186.6,373.9 L186.1,375.7 L185.6,374.2 L185.1,375.3 L184.6,374.4 L184.1,373.6 L183.6,373.5 L183.1,374.7 L182.6,373.0 L182.1,373.5 L181.6,372.7 L181.1,373.2 L180.6,373.8 L180.1,373.0 L179.6,373.0 L179.1,372.1 L178.6,372.2 L178.1,373.0 L177.6,372.6 L177.1,373.0 L176.6,372.4 L176.1,371.9 L175.6,371.4 L175.1,370.6 L174.6,370.6 L174.1,372.0 L173.6,370.2 L173.1,371.1 L172.6,370.5 L172.1,370.0 L171.6,369.4 L171.1,369.9 L170.6,370.5 L170.1,369.4 L169.6,369.0 L169.1,369.8 L168.6,368.4 L168.1,368.9 L167.6,369.5 L167.1,367.4 L166.6,368.5 L166.1,367.3 L165.6,367.0 L165.1,367.0 L164.6,366.7 L164.1,367.2 L163.6,365.7 L163.1,365.5 L162.6,365.0 L162.1,365.1 L161.6,365.1 L161.1,363.8 L160.6,364.2 L160.1,363.3 L159.6,365.1 L159.1,363.1 L158.6,362.5 L158.1,362.9 L157.6,364.3 L157.1,362.3 L156.6,361.7 L156.1,362.5 L155.6,362.0 L155.1,362.0 L154.6,361.3 L154.1,361.7 L153.6,360.3 L153.1,359.6 L152.6,359.6 L152.1,359.8 L151.6,360.2 L151.1,359.0 L150.6,360.2 L150.1,359.2 L149.6,359.0 L149.1,359.6 L148.6,357.7 L148.1,358.4 L147.6,358.4 L147.1,357.9 L146.6,356.8 L146.1,356.7 L145.6,356.8 L145.1,355.9 L144.6,357.3 L144.1,356.0 L143.6,355.9 L143.1,356.3 L142.6,355.1 L142.1,354.9 L141.6,355.0 L141.1,354.8 L140.6,353.8 L140.1,353.7 L139.6,353.5 L139.1,353.8 L138.6,354.0 L138.1,352.5 L137.6,352.9 L137.1,354.2 L136.6,351.7 L136.1,354.4 L135.6,351.3 L135.1,351.1 L134.6,352.0 L134.1,350.4 L133.6,350.7 L133.1,351.4 L132.6,351.6 L132.1,349.8 L131.6,349.8 L131.1,348.7 L130.6,349.8 L130.1,349.0 L129.6,350.0 L129.1,348.6 L128.6,347.5 L128.1,347.5 L127.6,347.8 L127.1,347.4 L126.6,346.4 L126.1,346.9 L125.6,346.9 L125.1,347.0 L124.6,346.8 L124.1,345.0 L123.6,346.7 L123.1,345.1 L122.6,345.0 L122.1,345.4 L121.6,344.6 L121.1,345.1 L120.6,345.0 L120.1,343.8 L119.6,343.9 L119.1,343.8 L118.6,343.2 L118.1,341.9 L117.6,341.8 L117.1,341.9 L116.6,342.9 L116.1,341.0 L115.6,340.8 L115.1,340.3 L114.6,340.0 L114.1,340.4 L113.6,340.6 L113.1,339.2 L112.6,340.0 L112.1,339.1 L111.6,338.7 L111.1,338.1 L110.6,340.1 L110.1,339.3 L109.6,337.8 L109.1,337.8 L108.6,337.0 L108.1,337.2 L107.6,336.4 L107.1,335.8 L106.6,335.6 L106.1,337.0 L105.6,335.3 L105.1,336.1 L104.6,336.0 L104.1,335.3 L103.6,333.8 L103.1,333.9 L102.6,335.7 L102.1,334.3 L101.6,333.6 L101.1,333.5 L100.6,334.9 L100.1,331.8 L99.6,333.4 L99.1,331.6 L98.6,331.4 L98.1,330.8 L97.6,330.8 L97.1,333.1 L96.6,329.9Z" fill="#000" stroke="#000" stroke-width="0.6"/>
<line x1="182.8" y1="340" x2="182.8" y2="390" stroke="#fff" stroke-width="0.9"/>
<path d="M577.01,235.3V235.3H580.49V230.0H583.96V225.3H587.43V222.4H590.90V218.6H594.37V215.3H597.84V212.9H601.31V210.5H604.78V208.6H608.25V207.2H611.72V205.6H615.19V204.7H618.66V205.3H622.13V204.6H625.60V206.3H629.07V209.5H632.54V208.6H636.01V210.9H639.48V213.0H642.95V213.0H646.42V216.6H649.89V215.3H653.36V220.0H656.83V223.0H660.30V226.0H663.77V228.9H667.24V232.8H670.71V235.4H674.18V239.0H677.65V239.8H681.12V241.4H684.59V242.7H688.06V241.6H691.53V241.2H695.00V239.2H698.47V233.1H701.94V231.9H705.41V231.8H708.88V231.5H712.35V233.7H715.82V234.9H719.29V236.8H722.76V239.9H726.23V241.9H729.70V243.4H733.17V242.7H736.64V243.6H740.11V243.0H743.58V243.1H747.05V241.6H750.52V240.7H753.99V239.7H757.46V240.2H760.93V240.2H764.40" stroke="#000" stroke-width="3.0" stroke-linejoin="miter"/>
<path d="M578.75,228.7V241.9 M582.22,223.4V236.6 M585.69,218.7V231.9 M589.16,215.8V229.0 M592.63,212.0V225.2 M596.10,208.7V221.9 M599.57,206.3V219.5 M603.04,203.9V217.1 M606.51,202.0V215.2 M609.98,200.6V213.8 M613.45,199.0V212.2 M616.92,198.1V211.3 M620.39,198.7V211.9 M623.86,198.0V211.2 M627.33,199.7V212.9 M630.80,202.9V216.1 M634.27,202.0V215.2 M637.74,204.3V217.5 M641.21,206.4V219.6 M644.68,206.4V219.6 M648.15,210.0V223.2 M651.62,208.7V221.9 M655.09,213.4V226.6 M658.56,216.4V229.6 M662.03,219.4V232.6 M665.50,222.3V235.5 M668.97,226.2V239.4 M672.44,228.8V242.0 M675.91,232.4V245.6 M679.38,233.2V246.4 M682.85,234.8V248.0 M686.32,236.1V249.3 M689.79,235.0V248.2 M693.26,234.6V247.8 M696.73,232.6V245.8 M700.20,226.5V239.7 M703.67,225.3V238.5 M707.14,225.2V238.4 M710.61,224.9V238.1 M714.08,227.1V240.3 M717.55,228.3V241.5 M721.02,230.2V243.4 M724.49,233.3V246.5 M727.96,235.3V248.5 M731.43,236.8V250.0 M734.90,236.1V249.3 M738.37,237.0V250.2 M741.84,236.4V249.6 M745.31,236.5V249.7 M748.78,235.0V248.2 M752.25,234.1V247.3 M755.72,233.1V246.3 M759.19,233.6V246.8 M762.66,233.6V246.8" stroke="#000" stroke-width="1.8"/>
<path d="M96.6,332.2 L97.1,330.3 L97.6,327.9 L98.1,327.0 L98.6,328.7 L99.1,328.0 L99.6,331.7 L100.1,330.8 L100.6,327.1 L101.1,327.8 L101.6,332.4 L102.1,330.4 L102.6,329.6 L103.1,332.7 L103.6,329.9 L104.1,330.5 L104.6,330.4 L105.1,328.1 L105.6,333.3 L106.1,330.1 L106.6,331.5 L107.1,331.6 L107.6,334.2 L108.1,333.3 L108.6,333.7 L109.1,331.5 L109.6,334.1 L110.1,332.5 L110.6,335.3 L111.1,335.7 L111.6,335.5 L112.1,338.4 L112.6,336.8 L113.1,337.2 L113.6,336.9 L114.1,336.8 L114.6,338.5 L115.1,338.9 L115.6,336.6 L116.1,339.4 L116.6,339.2 L117.1,339.9 L117.6,339.7 L118.1,338.3 L118.6,338.7 L119.1,341.9 L119.6,340.7 L120.1,339.5 L120.6,341.4 L121.1,341.1 L121.6,340.1 L122.1,340.1 L122.6,341.0 L123.1,342.8 L123.6,342.8 L124.1,343.0 L124.6,343.7 L125.1,344.2 L125.6,342.6 L126.1,344.2 L126.6,344.2 L127.1,344.2 L127.6,345.0 L128.1,345.6 L128.6,345.8 L129.1,345.4 L129.6,346.3 L130.1,348.0 L130.6,346.6 L131.1,346.5 L131.6,347.9 L132.1,348.3 L132.6,348.5 L133.1,348.0 L133.6,349.4 L134.1,348.8 L134.6,348.9 L135.1,349.4 L135.6,349.9 L136.1,350.5 L136.6,350.8 L137.1,350.7 L137.6,351.4 L138.1,351.3 L138.6,351.8 L139.1,351.2 L139.6,351.4 L140.1,352.5 L140.6,352.0 L141.1,352.6 L141.6,352.9 L142.1,353.1 L142.6,353.3 L143.1,354.1 L143.6,353.1 L144.1,354.4 L144.6,355.1 L145.1,354.6 L145.6,354.8 L146.1,355.3 L146.6,355.8 L147.1,355.2 L147.6,355.7 L148.1,355.9 L148.6,356.3 L149.1,356.4 L149.6,356.7 L150.1,356.7 L150.6,357.0 L151.1,357.1 L151.6,357.3 L152.1,357.6 L152.6,357.8 L153.1,357.8 L153.6,358.5 L154.1,358.3 L154.6,358.3 L155.1,358.9 L155.6,358.8 L156.1,359.2 L156.6,359.3 L157.1,359.5 L157.6,359.6 L158.1,359.7 L158.6,359.9 L159.1,360.4 L159.6,359.9 L160.1,360.4 L160.6,360.6 L161.1,360.6 L161.6,360.7 L162.1,361.3 L162.6,361.1 L163.1,361.6 L163.6,361.5 L164.1,361.6 L164.6,361.8 L165.1,362.0 L165.6,362.2 L166.1,362.2 L166.6,362.4 L167.1,362.5 L167.6,362.8 L168.1,362.9 L168.6,362.9 L169.1,363.0 L169.6,363.3 L170.1,363.4 L170.6,363.6 L171.1,363.7 L171.6,364.0 L172.1,364.2 L172.6,364.5 L173.1,364.6 L173.6,365.0 L174.1,365.0 L174.6,365.4 L175.1,365.4 L175.6,365.6 L176.1,365.7 L176.6,365.6 L177.1,365.9 L177.6,366.1 L178.1,366.3 L178.6,366.1 L179.1,366.4 L179.6,366.3 L180.1,366.4 L180.6,366.3 L181.1,366.5 L181.6,366.5 L182.1,366.6 L182.6,366.6 L183.1,366.6 L183.6,366.7 L184.1,366.7 L184.6,366.7 L185.1,366.7 L185.6,366.7 L186.1,366.5 L186.6,366.4 L187.1,366.3 L187.6,366.2 L188.1,366.0 L188.6,365.8 L189.1,365.6 L189.6,365.4 L190.1,365.2 L190.6,364.8 L191.1,364.3 L191.6,363.8 L192.1,363.0 L192.6,362.2 L193.1,361.4 L193.6,360.7 L194.1,359.9 L194.6,359.1 L195.1,358.3 L195.6,357.6 L196.1,356.9 L196.6,356.1 L197.1,355.3 L197.6,354.4 L198.1,353.5 L198.6,352.4 L199.1,351.2 L199.6,349.9 L200.1,348.2 L200.6,346.3 L201.1,344.3 L201.6,342.1 L202.1,339.9 L202.6,337.8 L203.1,335.7 L203.6,333.5 L204.1,331.3 L204.6,329.0 L205.1,326.7 L205.6,324.4 L206.1,322.1 L206.6,319.8 L207.1,317.6 L207.6,315.4 L208.1,313.1 L208.6,310.9 L209.1,308.7 L209.6,306.5 L210.1,304.4 L210.6,302.3 L211.1,300.3 L211.6,298.3 L212.1,296.4 L212.6,294.5 L213.1,292.6 L213.6,290.6 L214.1,288.6 L214.6,286.6 L215.1,284.5 L215.6,282.3 L216.1,280.1 L216.6,277.9 L217.1,275.6 L217.6,273.3 L218.1,271.0 L218.6,268.7 L219.1,266.3 L219.6,264.0 L220.1,261.6 L220.6,259.3 L221.1,256.9 L221.6,254.6 L222.1,252.2 L222.6,249.9 L223.1,247.7 L223.6,245.4 L224.1,243.3 L224.6,241.1 L225.1,239.0 L225.6,237.0 L226.1,235.0 L226.6,233.0 L227.1,231.0 L227.6,229.0 L228.1,227.1 L228.6,225.1 L229.1,223.1 L229.6,221.1 L230.1,219.0 L230.6,216.9 L231.1,214.8 L231.6,212.6 L232.1,210.4 L232.6,208.0 L233.1,205.6 L233.6,203.1 L234.1,200.5 L234.6,197.8 L235.1,195.0 L235.6,192.0 L236.1,189.0 L236.6,185.8 L237.1,182.5 L237.6,179.2 L238.1,175.7 L238.6,172.2 L239.1,168.6 L239.6,165.0 L240.1,161.3 L240.6,157.5 L241.1,153.8 L241.6,149.9 L242.1,146.1 L242.6,142.3 L243.1,138.4 L243.6,134.6 L244.1,130.8 L244.6,126.9 L245.1,122.9 L245.6,118.9 L246.1,114.8 L246.6,110.6 L247.1,106.4 L247.6,102.1 L248.1,97.9 L248.6,93.8 L249.1,89.6 L249.6,85.5 L250.1,81.1 L250.6,76.8 L251.1,72.5 L251.6,68.5 L252.1,64.9 L252.6,61.7 L253.1,58.4 L253.6,55.5 L254.1,53.3 L254.6,52.3 L255.1,51.7 L255.6,51.2 L256.1,50.7 L256.6,50.4 L257.1,50.1 L257.6,49.8 L258.1,49.5 L258.6,49.1 L259.1,48.7 L259.6,48.2 L260.1,47.8 L260.6,47.3 L261.1,46.9 L261.6,46.4 L262.1,46.0 L262.6,45.6 L263.1,45.2 L263.6,44.9 L264.1,44.6 L264.6,44.3 L265.1,44.1 L265.6,43.9 L266.1,43.7 L266.6,43.4 L267.1,43.1 L267.6,42.8 L268.1,42.3 L268.6,41.5 L269.1,40.1 L269.6,38.4 L270.1,36.6 L270.6,34.8 L271.1,32.6 L271.6,30.1 L272.1,27.7 L272.6,26.1 L273.1,25.5 L273.6,25.1 L274.1,24.7 L274.6,24.5 L275.1,24.6 L275.6,25.1 L276.1,26.2 L276.6,27.5 L277.1,28.9 L277.6,30.6 L278.1,32.9 L278.6,35.3 L279.1,37.5 L279.6,39.2 L280.1,40.5 L280.6,41.7 L281.1,42.3 L281.6,41.5 L282.1,39.1 L282.6,36.6 L283.1,35.2 L283.6,34.1 L284.1,33.4 L284.6,33.4 L285.1,34.0 L285.6,35.0 L286.1,36.3 L286.6,37.9 L287.1,39.6 L287.6,42.4 L288.1,46.3 L288.6,50.7 L289.1,55.0 L289.6,58.7 L290.1,62.3 L290.6,65.9 L291.1,69.3 L291.6,72.5 L292.1,75.8 L292.6,79.2 L293.1,81.5 L293.6,81.5 L294.1,80.6 L294.6,79.1 L295.1,77.3 L295.6,75.3 L296.1,71.8 L296.6,69.0 L297.1,69.3 L297.6,72.3 L298.1,76.2 L298.6,81.0 L299.1,86.8 L299.6,92.0 L300.1,96.2 L300.6,100.2 L301.1,103.8 L301.6,106.8 L302.1,108.8 L302.6,110.4 L303.1,111.8 L303.6,113.0 L304.1,114.1 L304.6,115.1 L305.1,116.0 L305.6,116.8 L306.1,117.6 L306.6,118.5 L307.1,119.2 L307.6,119.9 L308.1,120.6 L308.6,121.2 L309.1,122.0 L309.6,122.9 L310.1,123.9 L310.6,125.0 L311.1,126.1 L311.6,127.1 L312.1,128.0 L312.6,128.8 L313.1,129.3 L313.6,129.7 L314.1,129.9 L314.6,130.2 L315.1,130.6 L315.6,131.2 L316.1,132.5 L316.6,135.2 L317.1,137.7 L317.6,139.1 L318.1,140.2 L318.6,141.1 L319.1,141.9 L319.6,142.6 L320.1,143.3 L320.6,144.0 L321.1,144.7 L321.6,145.5 L322.1,146.5 L322.6,147.6 L323.1,148.8 L323.6,150.1 L324.1,151.5 L324.6,152.8 L325.1,154.3 L325.6,155.7 L326.1,157.0 L326.6,158.4 L327.1,159.7 L327.6,160.9 L328.1,162.1 L328.6,163.3 L329.1,164.5 L329.6,165.7 L330.1,167.0 L330.6,168.3 L331.1,169.6 L331.6,171.0 L332.1,172.4 L332.6,173.7 L333.1,175.1 L333.6,176.7 L334.1,178.5 L334.6,180.5 L335.1,183.1 L335.6,186.3 L336.1,190.1 L336.6,194.5 L337.1,199.3 L337.6,205.6 L338.1,212.5 L338.6,220.3 L339.1,225.6 L339.6,228.3 L340.1,230.2 L340.6,231.8 L341.1,233.3 L341.6,235.0 L342.1,237.2 L342.6,239.6 L343.1,242.2 L343.6,244.9 L344.1,247.6 L344.6,250.4 L345.1,253.1 L345.6,255.8 L346.1,258.4 L346.6,261.1 L347.1,263.8 L347.6,266.5 L348.1,269.2 L348.6,271.7 L349.1,274.1 L349.6,276.4 L350.1,278.5 L350.6,280.6 L351.1,282.1 L351.6,282.8 L352.1,283.2 L352.6,283.6 L353.1,284.0 L353.6,284.6 L354.1,286.0 L354.6,288.1 L355.1,290.5 L355.6,292.9 L356.1,295.5 L356.6,298.2 L357.1,301.0 L357.6,303.6 L358.1,306.2 L358.6,308.9 L359.1,311.6 L359.6,314.2 L360.1,316.5 L360.6,318.5 L361.1,320.3 L361.6,321.9 L362.1,323.4 L362.6,324.9 L363.1,326.2 L363.6,327.5 L364.1,328.7 L364.6,329.8 L365.1,330.9 L365.6,332.0 L366.1,333.0 L366.6,334.1 L367.1,335.1 L367.6,336.0 L368.1,336.9 L368.6,337.8 L369.1,338.7 L369.6,339.5 L370.1,340.2 L370.6,340.9 L371.1,341.5 L371.6,342.1 L372.1,342.7 L372.6,343.2 L373.1,343.7 L373.6,344.1 L374.1,344.6 L374.6,345.0 L375.1,345.4 L375.6,345.8 L376.1,346.2 L376.6,346.5 L377.1,346.9 L377.6,347.2 L378.1,347.5 L378.6,347.9 L379.1,348.2 L379.6,348.5 L380.1,348.8 L380.6,349.1 L381.1,349.3 L381.6,349.6 L382.1,349.9 L382.6,350.1 L383.1,350.4 L383.6,350.6 L384.1,350.9 L384.6,351.1 L385.1,351.3 L385.6,351.5 L386.1,351.7 L386.6,352.0 L387.1,352.2 L387.6,352.4 L388.1,352.6 L388.6,352.8 L389.1,353.0 L389.6,353.2 L390.1,353.4 L390.6,353.5 L391.1,353.7 L391.6,353.9 L392.1,354.1 L392.6,354.2 L393.1,354.4 L393.6,354.5 L394.1,354.7 L394.6,354.8 L395.1,354.9 L395.6,355.0 L396.1,355.2 L396.6,355.3 L397.1,355.4 L397.6,355.5 L398.1,355.6 L398.6,355.7 L399.1,355.8 L399.6,355.9 L400.1,356.0 L400.6,356.0 L401.1,356.1 L401.6,356.1 L402.1,356.2 L402.6,356.2 L403.1,356.2 L403.6,356.2 L404.1,356.2 L404.6,356.2 L405.1,356.2 L405.6,356.1 L406.1,356.1 L406.6,356.1 L407.1,356.1 L407.6,356.0 L408.1,356.0 L408.6,356.0 L409.1,355.9 L409.6,355.8 L410.1,355.3 L410.6,354.7 L411.1,354.1 L411.6,353.6 L412.1,353.3 L412.6,353.3 L413.1,353.5 L413.6,353.7 L414.1,353.9 L414.6,354.1 L415.1,354.3 L415.6,354.3 L416.1,354.3 L416.6,354.3 L417.1,354.2 L417.6,354.2 L418.1,354.1 L418.6,354.1 L419.1,354.0 L419.6,353.9 L420.1,353.8 L420.6,353.7 L421.1,353.4 L421.6,353.0 L422.1,352.6 L422.6,352.1 L423.1,351.6 L423.6,351.1 L424.1,350.7 L424.6,350.2 L425.1,349.7 L425.6,349.2 L426.1,348.7 L426.6,348.4 L427.1,348.3 L427.6,348.5 L428.1,348.9 L428.6,349.5 L429.1,350.1 L429.6,350.7 L430.1,351.2 L430.6,351.7 L431.1,352.1 L431.6,352.5 L432.1,352.9 L432.6,353.3 L433.1,353.6 L433.6,353.9 L434.1,354.1 L434.6,354.1 L435.1,354.1 L435.6,354.2 L436.1,354.2 L436.6,354.2 L437.1,354.2 L437.6,354.3 L438.1,354.3 L438.6,354.3 L439.1,354.3 L439.6,354.3 L440.1,354.3 L440.6,354.3 L441.1,354.3 L441.6,354.2 L442.1,354.1 L442.6,353.9 L443.1,353.7 L443.6,353.4 L444.1,353.1 L444.6,352.8 L445.1,352.5 L445.6,352.2 L446.1,352.0 L446.6,351.7 L447.1,351.5 L447.6,351.2 L448.1,350.9 L448.6,350.5 L449.1,350.2 L449.6,350.0 L450.1,349.7 L450.6,349.6 L451.1,349.6 L451.6,349.7 L452.1,349.8 L452.6,349.9 L453.1,350.1 L453.6,350.3 L454.1,350.5 L454.6,350.7 L455.1,350.9 L455.6,351.1 L456.1,351.3 L456.6,351.5 L457.1,351.7 L457.6,351.9 L458.1,352.0 L458.6,352.0 L459.1,352.0 L459.6,351.9 L460.1,351.9 L460.6,351.8 L461.1,351.7 L461.6,351.6 L462.1,351.4 L462.6,351.3 L463.1,351.2 L463.6,351.0 L464.1,350.9 L464.6,350.7 L465.1,350.6 L465.6,350.5 L466.1,350.3 L466.6,350.2 L467.1,350.1 L467.6,350.0 L468.1,349.8 L468.6,349.7 L469.1,349.6 L469.6,349.5 L470.1,349.3 L470.6,349.2 L471.1,349.0 L471.6,348.8 L472.1,348.7 L472.6,348.5 L473.1,348.3 L473.6,348.0 L474.1,347.8 L474.6,347.5 L475.1,347.1 L475.6,346.8 L476.1,346.3 L476.6,345.9 L477.1,345.3 L477.6,344.8 L478.1,344.3 L478.6,343.7 L479.1,343.1 L479.6,342.5 L480.1,341.9 L480.6,341.2 L481.1,340.6 L481.6,340.0 L482.1,339.3 L482.6,338.6 L483.1,337.8 L483.6,337.0 L484.1,336.1 L484.6,335.2 L485.1,334.4 L485.6,333.5 L486.1,332.6 L486.6,331.8 L487.1,331.0 L487.6,330.2 L488.1,329.5 L488.6,328.7 L489.1,327.9 L489.6,327.0 L490.1,326.3 L490.6,325.5 L491.1,324.9 L491.6,324.3 L492.1,323.9 L492.6,323.6 L493.1,323.4 L493.6,323.3 L494.1,323.2 L494.6,323.1 L495.1,323.0 L495.6,322.9 L496.1,322.9 L496.6,322.8 L497.1,322.7 L497.6,322.6 L498.1,322.5 L498.6,322.4 L499.1,322.2 L499.6,322.0 L500.1,321.7 L500.6,321.4 L501.1,320.9 L501.6,320.5 L502.1,320.0 L502.6,319.5 L503.1,318.9 L503.6,318.4 L504.1,317.8 L504.6,317.2 L505.1,316.6 L505.6,316.0 L506.1,315.4 L506.6,314.6 L507.1,313.9 L507.6,313.1 L508.1,312.3 L508.6,311.4 L509.1,310.5 L509.6,309.6 L510.1,308.7 L510.6,307.8 L511.1,306.8 L511.6,305.9 L512.1,305.0 L512.6,304.0 L513.1,303.1 L513.6,302.2 L514.1,301.2 L514.6,300.2 L515.1,299.2 L515.6,298.2 L516.1,297.1 L516.6,296.1 L517.1,295.1 L517.6,294.0 L518.1,293.0 L518.6,292.0 L519.1,291.1 L519.6,290.1 L520.1,289.2 L520.6,288.2 L521.1,287.1 L521.6,286.1 L522.1,285.1 L522.6,284.2 L523.1,283.2 L523.6,282.3 L524.1,281.5 L524.6,280.7 L525.1,280.1 L525.6,279.5 L526.1,279.0 L526.6,278.5 L527.1,278.0 L527.6,277.6 L528.1,277.1 L528.6,276.7 L529.1,276.4 L529.6,276.0 L530.1,275.7 L530.6,275.5 L531.1,275.2 L531.6,275.1 L532.1,275.0 L532.6,274.9 L533.1,274.8 L533.6,274.8 L534.1,274.8 L534.6,274.7 L535.1,274.7 L535.6,274.7 L536.1,274.6 L536.6,274.6 L537.1,274.5 L537.6,274.5 L538.1,274.4 L538.6,274.4 L539.1,274.3 L539.6,274.1 L540.1,274.0 L540.6,273.9 L541.1,273.7 L541.6,273.5 L542.1,273.3 L542.6,273.2 L543.1,273.0 L543.6,272.7 L544.1,272.5 L544.6,272.3 L545.1,272.1 L545.6,271.8 L546.1,271.5 L546.6,271.2 L547.1,270.9 L547.6,270.6 L548.1,270.3 L548.6,269.9 L549.1,269.5 L549.6,269.1 L550.1,268.7 L550.6,268.3 L551.1,267.9 L551.6,267.4 L552.1,266.9 L552.6,266.4 L553.1,265.8 L553.6,265.2 L554.1,264.6 L554.6,263.9 L555.1,263.2 L555.6,262.5 L556.1,261.8 L556.6,261.1 L557.1,260.3 L557.6,259.5 L558.1,258.7 L558.6,257.9 L559.1,257.1 L559.6,256.3 L560.1,255.4 L560.6,254.5 L561.1,253.5 L561.6,252.5 L562.1,251.4 L562.6,250.4 L563.1,249.4 L563.6,248.3 L564.1,247.3 L564.6,246.4 L565.1,245.4 L565.6,244.6 L566.1,243.7 L566.6,242.9 L567.1,242.1 L567.6,241.3 L568.1,240.5 L568.6,239.8 L569.1,239.1 L569.6,238.5 L570.1,238.0 L570.6,237.5 L571.1,237.1 L571.6,236.7 L572.1,236.3 L572.6,235.9 L573.1,235.6 L573.6,235.3 L574.1,235.1 L574.6,235.0 L575.1,234.9 L575.6,234.9 L576.1,235.0 L576.6,235.0 L577.1,235.1 L577.6,235.3 L578.1,235.4 L578.6,235.5 L579.1,235.6 L579.6,235.8 L580.1,235.9 L580.6,235.9 L581.1,236.0 L581.6,236.0 L582.1,235.9 L582.6,235.8 L583.1,235.6 L583.6,235.4 L584.1,235.1 L584.6,234.8 L585.1,234.5 L585.6,234.2 L586.1,233.8 L586.6,233.5 L587.1,233.2 L587.6,232.9 L588.1,232.7 L588.6,232.4 L589.1,232.2 L589.6,231.9 L590.1,231.7 L590.6,231.5 L591.1,231.3 L591.6,231.0 L592.1,230.8 L592.6,230.6 L593.1,230.3 L593.6,230.1 L594.1,229.8 L594.6,229.5 L595.1,229.3 L595.6,229.0 L596.1,228.6 L596.6,228.3 L597.1,227.9 L597.6,227.6 L598.1,227.2 L598.6,226.7 L599.1,226.3 L599.6,225.9 L600.1,225.5 L600.6,225.0 L601.1,224.6 L601.6,224.2 L602.1,223.8 L602.6,223.4 L603.1,223.0 L603.6,222.6 L604.1,222.2 L604.6,221.9 L605.1,221.5 L605.6,221.1 L606.1,220.8 L606.6,220.4 L607.1,220.0 L607.6,219.7 L608.1,219.3 L608.6,219.0 L609.1,218.7 L609.6,218.4 L610.1,218.1 L610.6,217.9 L611.1,217.7 L611.6,217.5 L612.1,217.3 L612.6,217.1 L613.1,217.0 L613.6,216.9 L614.1,216.8 L614.6,216.7 L615.1,216.6 L615.6,216.5 L616.1,216.4 L616.6,216.3 L617.1,216.2 L617.6,216.1 L618.1,215.9 L618.6,215.8 L619.1,215.6 L619.6,215.4 L620.1,215.2 L620.6,214.8 L621.1,214.5 L621.6,214.1 L622.1,213.7 L622.6,213.2 L623.1,212.8 L623.6,212.3 L624.1,211.9 L624.6,211.5 L625.1,211.1 L625.6,210.8 L626.1,210.5 L626.6,210.2 L627.1,209.9 L627.6,209.6 L628.1,209.3 L628.6,209.0 L629.1,208.7 L629.6,208.5 L630.1,208.2 L630.6,208.0 L631.1,207.8 L631.6,207.7 L632.1,207.6 L632.6,207.5 L633.1,207.4 L633.6,207.3 L634.1,207.3 L634.6,207.2 L635.1,207.2 L635.6,207.1 L636.1,207.1 L636.6,207.0 L637.1,207.0 L637.6,206.9 L638.1,206.8 L638.6,206.8 L639.1,206.7 L639.6,206.6 L640.1,206.5 L640.6,206.4 L641.1,206.3 L641.6,206.2 L642.1,206.1 L642.6,206.0 L643.1,205.9 L643.6,205.8 L644.1,205.7 L644.6,205.6 L645.1,205.5 L645.6,205.3 L646.1,205.2 L646.6,205.1 L647.1,205.0 L647.6,204.8 L648.1,204.7 L648.6,204.5 L649.1,204.4 L649.6,204.3 L650.1,204.1 L650.6,204.0 L651.1,203.9 L651.6,203.8 L652.1,203.7 L652.6,203.6 L653.1,203.5 L653.6,203.4 L654.1,203.4 L654.6,203.3 L655.1,203.3 L655.6,203.5 L656.1,203.9 L656.6,204.4 L657.1,205.1 L657.6,205.9 L658.1,206.6 L658.6,207.3 L659.1,208.0 L659.6,208.7 L660.1,209.4 L660.6,210.1 L661.1,210.9 L661.6,211.7 L662.1,212.4 L662.6,213.2 L663.1,214.1 L663.6,214.9 L664.1,215.7 L664.6,216.6 L665.1,217.4 L665.6,218.3 L666.1,219.2 L666.6,220.0 L667.1,220.9 L667.6,221.7 L668.1,222.5 L668.6,223.4 L669.1,224.2 L669.6,225.1 L670.1,225.9 L670.6,226.7 L671.1,227.5 L671.6,228.3 L672.1,229.0 L672.6,229.7 L673.1,230.4 L673.6,231.0 L674.1,231.6 L674.6,232.1 L675.1,232.6 L675.6,233.1 L676.1,233.7 L676.6,234.2 L677.1,234.7 L677.6,235.1 L678.1,235.6 L678.6,236.0 L679.1,236.3 L679.6,236.5 L680.1,236.7 L680.6,236.8 L681.1,236.8 L681.6,236.8 L682.1,236.8 L682.6,236.8 L683.1,236.8 L683.6,236.7 L684.1,236.7 L684.6,236.7 L685.1,236.7 L685.6,236.6 L686.1,236.6 L686.6,236.5 L687.1,236.5 L687.6,236.5 L688.1,236.4 L688.6,236.2 L689.1,236.1 L689.6,235.9 L690.1,235.7 L690.6,235.5 L691.1,235.2 L691.6,235.0 L692.1,234.8 L692.6,234.7 L693.1,234.5 L693.6,234.4 L694.1,234.3 L694.6,234.1 L695.1,234.0 L695.6,233.9 L696.1,233.8 L696.6,233.7 L697.1,233.6 L697.6,233.5 L698.1,233.4 L698.6,233.4 L699.1,233.3 L699.6,233.3 L700.1,233.3 L700.6,233.4 L701.1,233.4 L701.6,233.6 L702.1,233.7 L702.6,233.9 L703.1,234.1 L703.6,234.3 L704.1,234.5 L704.6,234.7 L705.1,234.9 L705.6,235.0 L706.1,235.2 L706.6,235.4 L707.1,235.5 L707.6,235.7 L708.1,235.8 L708.6,236.0 L709.1,236.2 L709.6,236.4 L710.1,236.5 L710.6,236.7 L711.1,236.8 L711.6,237.0 L712.1,237.1 L712.6,237.3 L713.1,237.4 L713.6,237.5 L714.1,237.6 L714.6,237.7 L715.1,237.8 L715.6,237.9 L716.1,238.0 L716.6,238.0 L717.1,238.1 L717.6,238.2 L718.1,238.2 L718.6,238.3 L719.1,238.3 L719.6,238.4 L720.1,238.5 L720.6,238.5 L721.1,238.6 L721.6,238.7 L722.1,238.7 L722.6,238.8 L723.1,238.9 L723.6,239.0 L724.1,239.0 L724.6,239.1 L725.1,239.2 L725.6,239.2 L726.1,239.3 L726.6,239.4 L727.1,239.4 L727.6,239.5 L728.1,239.6 L728.6,239.7 L729.1,239.8 L729.6,239.9 L730.1,240.0 L730.6,240.1 L731.1,240.2 L731.6,240.4 L732.1,240.5 L732.6,240.6 L733.1,240.8 L733.6,240.9 L734.1,241.1 L734.6,241.3 L735.1,241.4 L735.6,241.6 L736.1,241.8 L736.6,242.0 L737.1,242.1 L737.6,242.3 L738.1,242.5 L738.6,242.7 L739.1,242.9 L739.6,243.1 L740.1,243.3 L740.6,243.5 L741.1,243.7 L741.6,243.9 L742.1,244.1 L742.6,244.3 L743.1,244.5 L743.6,244.7 L744.1,244.9 L744.6,245.1 L745.1,245.3 L745.6,245.4 L746.1,245.6 L746.6,245.7 L747.1,245.9 L747.6,246.0 L748.1,246.2 L748.6,246.3 L749.1,246.5 L749.6,246.6 L750.1,246.7 L750.6,246.9 L751.1,247.0 L751.6,247.1 L752.1,247.2 L752.6,247.3 L753.1,247.4 L753.6,247.5 L754.1,247.6 L754.6,247.8 L755.1,247.9 L755.6,248.0 L756.1,248.1 L756.6,248.1 L757.1,248.2 L757.6,248.3 L758.1,248.4 L758.6,248.5 L759.1,248.6 L759.6,248.7 L760.1,248.8 L760.6,248.8 L761.1,248.9 L761.6,249.0 L762.1,249.0" stroke="#ee82ee" stroke-width="3.4"/>
</g>
<g clip-path="url(#c2)" fill="none"><path d="M97.3,601.9H98.6V582.9H99.9V602.7H101.2V583.8H102.5V607.6H103.8V570.2H105.1V601.0H106.4V574.2H107.7V600.7H109.0V583.3H110.3V598.9H111.6V580.4H112.9V595.7H114.2V582.2H115.5V563.1H116.8V576.7H118.1V600.9H119.4V588.4H120.7V605.3H122.0V586.0H123.3V590.4H124.6V585.2H125.9V597.9H127.2V586.7H128.5V598.2H129.8V591.6H131.1V600.0H132.4V595.7H133.7V600.8H135.0V586.2H136.3V591.1H137.6V577.3H138.9V588.1H140.2V580.4H141.5V587.7H142.8V569.4H144.1V590.5H145.4V571.1H146.7V593.3H148.0V567.3H149.3V588.7H150.6V568.7H151.9V593.6H153.2V577.9H154.5V593.6H155.8V574.4H157.1V567.3H158.4V580.9H159.7V599.9H161.0V588.2H163.1V597.9H164.6V589.1H166.7V600.2H168.3V590.6H170.2V604.0H172.7V590.4H174.1V606.5H175.8V595.4H177.2V604.2H178.7V600.0H180.9V607.9H183.3V602.9H185.1V615.4H187.6V611.6H189.4V619.5H190.1V627.9H191.5V636.3H192.9V639.0H194.3V641.8H195.4V649.1H196.4V656.5H197.4V662.0H198.4V667.6H199.5V675.9H200.4V684.1H201.6V693.3H202.8V701.6H203.8V691.5H204.6V691.5H205.6V691.5H206.8V676.8H208.1V667.5H209.1V658.3H210.4V652.8H211.8V647.3H212.9V640.8H213.9V634.4H214.9V633.5H216.1V632.6H217.3V622.5H218.4V620.2H219.4V617.9H220.4V617.6H221.7V617.2H222.9V616.9H223.9V615.5H224.9V614.2H226.0V610.5H227.4V606.8H228.6V612.8H229.4V618.8H230.6V611.9H232.0V605.0H233.1V638.1H234.3V636.2H235.7V634.4H237.1V627.0H238.4V619.7H239.8V611.4H241.2V603.1H242.4V595.8H243.2V588.4H244.3V584.9H245.5V581.4H246.9V583.5H248.5V585.6H250.0V592.5H251.3V599.4H252.7V606.3H254.1V613.3H255.4V602.7H256.6V592.1H258.1V589.3H259.8V591.6H261.4V593.9H262.9V596.6H264.2V599.4H265.8V595.3H267.7V591.2H269.2V602.4H270.2V613.6H271.4V614.4H272.6V615.2H273.8V617.5H274.9V619.9H276.3V618.3H277.9V604.2H279.2V598.2H280.2V592.3H281.4V606.1H282.7V619.9H284.2V626.6H285.8V633.3H287.2V624.2H288.3V615.2H289.5V604.2H290.7V593.1H291.9V600.2H293.1V607.3H294.4V638.8H295.9V653.8H297.3V635.7H298.9V605.7H300.6V601.0H302.5V602.2H304.5V603.4H306.3V617.6H307.9V615.2H309.4V612.8H310.7V608.8H311.8V604.9H313.2V612.8H314.8V607.7H315.9V602.6H317.3V596.3H318.9V590.0H320.5V590.4H322.0V590.7H323.3V588.8H324.4V586.8H325.6V588.0H326.9V589.2H328.6V596.3H330.4V593.9H331.8V623.1H333.1V640.4H334.6V645.9H336.2V623.1H338.1V596.3H339.9V619.9H341.2V624.6H342.3V629.4H343.9V638.8H345.9V651.5H347.8V631.0H349.4V631.0H350.6V631.0H351.8V645.1H353.4V640.4H354.9V618.3H356.1V601.8H357.4V591.5H358.7V591.1H360.0V590.7H361.1V586.0H362.2V585.6H363.6V585.2H365.1V578.9H366.6V567.9H368.3V583.7H370.0V584.0H371.5V584.4H373.1V597.8H375.1V606.5H376.7V609.2H378.1V612.0H379.4V614.4H380.6V616.8H382.2V625.4H383.8V627.5H385.1V629.6H386.7V625.0H388.5V625.5H390.2V626.0H391.6V625.2H392.8V624.4H394.2V627.1H395.8V629.9H397.4V634.2H398.9V638.6H400.9V634.6H403.1V638.5H405.0V642.5H406.7V638.2H408.2V633.9H409.5V641.3H410.9V648.8H412.5V644.5H414.5V640.2H416.5V639.8H418.4V639.4H420.1V642.1H421.6V644.9H423.2V658.3H425.4V670.1H427.3V664.6H428.6V650.4H430.2V639.4H432.0V630.7H434.0V625.2H436.4V620.5H438.8V611.0H440.6V609.8H442.1V608.6H443.7V620.5H445.8V624.4H447.7V626.0H449.0V627.6H450.7V620.5H452.8V611.8H454.5V611.8H455.8V611.8H457.6V601.5H459.6V600.8H461.2V600.0H463.0V598.0H464.9V596.0H466.7V590.5H468.3V588.9H469.9V587.3H471.9V583.9H474.2V584.5H476.6V585.0H478.8V588.1H480.4V598.4H482.2V598.8H484.3V599.2H486.2V611.0H488.4V617.3H490.9V621.2H492.9V619.2H494.5V617.3H496.1V603.1H497.8V582.6H499.9V572.3H502.0V570.0H504.0V567.6H506.1V563.7H508.5V554.2H510.4V548.7H512.4V554.2H514.9V562.1H517.0V566.0H519.0V563.7H521.1V576.3H523.1V568.4H524.7V568.8H526.3V569.2H528.1V580.2H530.2V588.9H532.8V597.6H535.2V601.9H537.1V606.2H539.3V605.8H541.6V605.4H544.1V601.5H546.3V607.0H548.5V611.7H551.1V612.5H553.4V613.3H555.0V618.1H556.4V619.2H558.4V620.4H560.2V633.0H561.9V640.1H564.1V639.3H565.7V634.6H566.9V635.0H568.7V635.4H570.7V640.9H572.7V633.0H574.0V628.3H576.0V629.1H577.9V616.5H579.5V611.7H581.1V603.1H583.0V601.5H585.5V596.0H587.5V593.6H589.8V585.7H592.5V584.9H594.5V577.0H595.9V576.2H597.8V575.5H600.0V576.0H601.3V580.0H604.8V580.0H608.2V583.9H611.6V580.7H615.1V579.2H618.5V579.2H622.0V589.4H625.4V597.0H628.9V609.6H632.3V612.3H635.8V619.1H639.2V620.6H642.7V627.3H646.1V633.6H649.6V641.5H653.0V648.5H656.5V650.1H659.9V647.0H663.4V644.3H666.8V636.7H670.3V626.9H673.8V619.4H677.2V613.9H680.6V613.1H684.1V620.6H687.5V622.5H691.0V629.6H694.4V624.1H697.9V618.3H701.3V600.5H704.8V601.2H708.2V598.1H711.7V593.4H715.1V603.6H718.6V601.2H722.0V609.9H725.5V618.1H728.9V621.0H732.4V613.9H735.8V611.5H739.3V606.4H742.8V607.6H746.2V598.9H749.6V593.4H753.1V591.3H756.5V583.4H760.0V579.6H762.0" stroke="#000" stroke-width="2.1" stroke-linejoin="miter"/></g>
<rect x="88.2" y="0.5" width="673.8" height="503.0" fill="none" stroke="#000" stroke-width="1.2"/>
<rect x="88.2" y="541.5" width="673.8" height="167.79999999999995" fill="none" stroke="#000" stroke-width="1.2"/>
<path d="M126.50,503.5v4.6 M126.50,709.3v4.6 M203.56,503.5v4.6 M203.56,709.3v4.6 M280.62,503.5v4.6 M280.62,709.3v4.6 M357.68,503.5v4.6 M357.68,709.3v4.6 M434.74,503.5v4.6 M434.74,709.3v4.6 M511.80,503.5v4.6 M511.80,709.3v4.6 M588.86,503.5v4.6 M588.86,709.3v4.6 M665.92,503.5v4.6 M665.92,709.3v4.6 M742.98,503.5v4.6 M742.98,709.3v4.6 M88.2,480.50h-4.6 M88.2,390.40h-4.6 M88.2,300.30h-4.6 M88.2,210.20h-4.6 M88.2,120.10h-4.6 M88.2,30.00h-4.6 M88.2,568.50h-4.6 M88.2,608.00h-4.6 M88.2,647.50h-4.6 M88.2,687.00h-4.6" stroke="#000" stroke-width="1.2" fill="none"/>
<g font-size="18.2" fill="#000">
<text x="81.7" y="485.9" text-anchor="end">0</text>
<text x="81.7" y="395.8" text-anchor="end">0.2</text>
<text x="81.7" y="305.7" text-anchor="end">0.4</text>
<text x="81.7" y="215.6" text-anchor="end">0.6</text>
<text x="81.7" y="125.5" text-anchor="end">0.8</text>
<text x="81.7" y="35.4" text-anchor="end">1.0</text>
<text x="81.6" y="573.9" text-anchor="end">0.05</text>
<text x="81.6" y="613.4" text-anchor="end">0</text>
<text transform="translate(40.2,652.9) scale(0.78,1)" text-anchor="end">−</text>
<text x="81.6" y="652.9" text-anchor="end">0.05</text>
<text transform="translate(40.2,692.4) scale(0.78,1)" text-anchor="end">−</text>
<text x="81.6" y="692.4" text-anchor="end">0.10</text>
<text x="128.5" y="728.7" text-anchor="middle">6</text>
<text x="205.6" y="728.7" text-anchor="middle">8</text>
<text x="282.6" y="728.7" text-anchor="middle">12</text>
<text x="359.7" y="728.7" text-anchor="middle">12</text>
<text x="436.7" y="728.7" text-anchor="middle">14</text>
<text x="513.8" y="728.7" text-anchor="middle">16</text>
<text x="590.9" y="728.7" text-anchor="middle">18</text>
<text x="667.9" y="728.7" text-anchor="middle">20</text>
<text x="745.0" y="728.7" text-anchor="middle">22</text>
</g>
<g font-size="21.9" fill="#000">
<text x="432.6" y="755.6" text-anchor="middle">Wavelength [<tspan font-style="italic">μ</tspan>m]</text>
<text x="576" y="283.3" textLength="141" lengthAdjust="spacingAndGlyphs">surface layer</text>
<text transform="translate(145.2,432.3) rotate(15.4)" text-anchor="middle">star</text>
<text transform="translate(279.3,428) rotate(7.8)" text-anchor="middle">inner rim</text>
<text transform="translate(597.7,420.1) rotate(-13.6)" text-anchor="middle">midplane</text>
<text x="571.5" y="27.2" textLength="175" lengthAdjust="spacingAndGlyphs"><tspan font-style="italic">JWST</tspan>-MIRI MRS</text>
<text x="571.4" y="55.3">Model</text>
<text x="640.7" y="690.7">Residuals</text>
</g>
<path d="M521.6,20.6H559.7" stroke="#000" stroke-width="3.3"/>
<path d="M521.6,48.7H559.7" stroke="#ee82ee" stroke-width="3.3"/>
<path d="M593.2,684.5H631.6" stroke="#000" stroke-width="3.0"/>
<text x="94.6" y="21.7" font-size="17.3" font-weight="bold">a</text>
<text x="95.3" y="559.3" font-size="17.3" font-weight="bold">b</text>
<g font-size="21.5" fill="#000" font-style="italic">
<text transform="translate(15.8,276.7) rotate(-90)">F</text>
<text transform="translate(42.8,276.7) rotate(-90)">F</text>
<text transform="translate(15.8,623.0) rotate(-90)">ΔF</text>
<text transform="translate(43,623.1) rotate(-90)">F</text>
</g>
<text transform="translate(47.8,264.0) rotate(-90)" font-size="14">max</text>
<path d="M21,246.2V285.7" stroke="#000" stroke-width="1.6"/>
<path d="M21.3,593.3V632.4" stroke="#000" stroke-width="1.6"/>
</svg>
</body></html>
